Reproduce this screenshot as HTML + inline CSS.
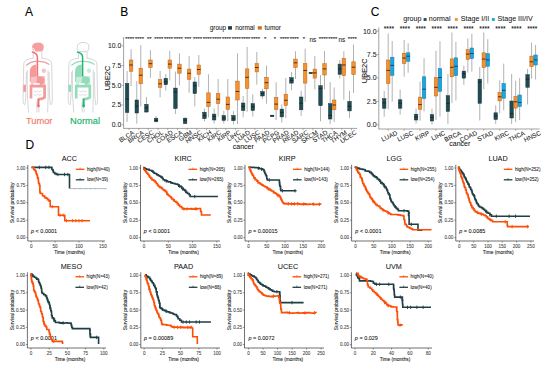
<!DOCTYPE html>
<html><head><meta charset="utf-8"><style>
html,body{margin:0;padding:0;background:#fff;width:550px;height:369px;overflow:hidden}
svg{display:block;font-family:"Liberation Sans", sans-serif}
</style></head><body>
<svg width="550" height="369" viewBox="0 0 550 369">
<rect width="550" height="369" fill="#fff"/>
<text x="25" y="16" font-size="12" fill="#000" text-anchor="start" stroke="#000" stroke-width="0.07" >A</text>
<text x="120.2" y="15.6" font-size="12" fill="#000" text-anchor="start" stroke="#000" stroke-width="0.07" >B</text>
<text x="370.8" y="15.8" font-size="12" fill="#000" text-anchor="start" stroke="#000" stroke-width="0.07" >C</text>
<text x="25.6" y="148.8" font-size="12" fill="#000" text-anchor="start" stroke="#000" stroke-width="0.07" >D</text>
<g><path d="M33.1,51.5 L33.300000000000004,58.3 Q25.1,59 24.0,62.5 Q23.6,65 23.6,70 L23.0,100 Q23.400000000000002,105.5 25.0,104.5 L25.8,96 L26.400000000000002,72 M27.200000000000003,70 L27.400000000000002,96 L28.6,112.5 M36.6,102 L37.0,112.5 M38.6,102 L39.0,112.5 M48.0,70 L48.2,96 L47.6,112.5 M49.0,72 L49.6,96 L50.400000000000006,104.5 Q52.0,105.5 52.400000000000006,100 L51.8,70 Q51.8,65 51.400000000000006,62.5 Q50.3,59 41.9,58.3 L41.800000000000004,51.5" fill="none" stroke="#c9c9c9" stroke-width="0.75"/><path d="M32.0,48.5 Q31.400000000000002,42.4 38.1,42.4 Q43.9,42.4 43.800000000000004,47 Q43.6,50.5 41.800000000000004,51.6 L34.0,51.6 Q33.0,50.6 32.0,48.5 Z" fill="#f4a0a0"/><path d="M31.8,47.8 Q34.6,48.5 35.1,51.6" fill="none" stroke="#fff" stroke-width="0.9"/><path d="M26.200000000000003,65.5 Q31.6,60.6 37.800000000000004,61.4 Q44.1,60.8 49.400000000000006,64.5" fill="none" stroke="#f39a9a" stroke-width="1.3"/><path d="M36.4,64.5 Q30.0,64.5 29.8,72 L29.8,82 L36.6,81 Z" fill="#f39a9a"/><circle cx="43.800000000000004" cy="70.8" r="2.2" fill="#f8c2c2"/><path d="M31.8,52 Q37.1,53 37.4,57 L37.4,78" fill="none" stroke="#f07272" stroke-width="1.5"/><path d="M30.8,77 L45.0,76 L45.2,85 L30.8,85.5 Z" fill="#f8c2c2"/><path d="M37.1,76.5 Q44.1,75.5 44.6,80 Q44.6,85 38.6,85 Q35.6,84 36.6,80 Z" fill="#f39a9a"/><rect x="33.6" y="83.2" width="6" height="2" fill="#fff"/><path d="M31.0,98.5 L31.0,86.2 L44.6,86.2 L44.6,97.4 Q41.6,99.5 38.4,99" fill="none" stroke="#f39a9a" stroke-width="2.7"/><path d="M32.800000000000004,89.5 L42.6,89.5 L42.6,96.5 L32.800000000000004,96.5 Z" fill="#fff"/><path d="M33.6,91 Q35.6,92.6 37.6,91 Q39.6,92.6 41.6,91 M33.6,94.5 Q35.6,96 37.6,94.5 Q39.6,96 41.6,94.5" fill="none" stroke="#cfcfcf" stroke-width="0.7"/><path d="M38.4,98.5 L38.4,105.5" stroke="#f07272" stroke-width="2"/><circle cx="38.4" cy="106" r="1.4" fill="#f07272"/><rect x="23.3" y="84.8" width="2.6" height="7" fill="#f39a9a"/></g>
<g><path d="M78.3,51.5 L78.5,58.3 Q70.3,59 69.2,62.5 Q68.8,65 68.8,70 L68.2,100 Q68.6,105.5 70.2,104.5 L71.0,96 L71.6,72 M72.39999999999999,70 L72.6,96 L73.8,112.5 M81.8,102 L82.2,112.5 M83.8,102 L84.2,112.5 M93.2,70 L93.39999999999999,96 L92.8,112.5 M94.2,72 L94.8,96 L95.6,104.5 Q97.2,105.5 97.6,100 L97.0,70 Q97.0,65 96.6,62.5 Q95.5,59 87.1,58.3 L87.0,51.5" fill="none" stroke="#c9c9c9" stroke-width="0.75"/><path d="M77.2,48.5 Q76.6,42.4 83.3,42.4 Q89.1,42.4 89.0,47 Q88.8,50.5 87.0,51.6 L79.2,51.6 Q78.2,50.6 77.2,48.5 Z" fill="none" stroke="#c9c9c9" stroke-width="0.8"/><path d="M71.39999999999999,65.5 Q76.8,60.6 83.0,61.4 Q89.3,60.8 94.6,64.5" fill="none" stroke="#93dcba" stroke-width="1.3"/><path d="M81.6,64.5 Q75.2,64.5 75.0,72 L75.0,82 L81.8,81 Z" fill="#93dcba"/><circle cx="89.0" cy="70.8" r="2.2" fill="#c8ecdb"/><path d="M77.0,52 Q82.3,53 82.6,57 L82.6,78" fill="none" stroke="#22b573" stroke-width="1.5"/><path d="M76.0,77 L90.2,76 L90.39999999999999,85 L76.0,85.5 Z" fill="#c8ecdb"/><path d="M82.3,76.5 Q89.3,75.5 89.8,80 Q89.8,85 83.8,85 Q80.8,84 81.8,80 Z" fill="#93dcba"/><rect x="78.8" y="83.2" width="6" height="2" fill="#fff"/><path d="M76.2,98.5 L76.2,86.2 L89.8,86.2 L89.8,97.4 Q86.8,99.5 83.6,99" fill="none" stroke="#93dcba" stroke-width="2.7"/><path d="M78.0,89.5 L87.8,89.5 L87.8,96.5 L78.0,96.5 Z" fill="#fff"/><path d="M78.8,91 Q80.8,92.6 82.8,91 Q84.8,92.6 86.8,91 M78.8,94.5 Q80.8,96 82.8,94.5 Q84.8,96 86.8,94.5" fill="none" stroke="#cfcfcf" stroke-width="0.7"/><path d="M83.6,98.5 L83.6,105.5" stroke="#22b573" stroke-width="2"/><circle cx="83.6" cy="106" r="1.4" fill="#22b573"/><rect x="68.5" y="84.8" width="2.6" height="7" fill="#93dcba"/></g>
<text x="39.2" y="124.4" font-size="9.3" fill="#f47764" text-anchor="middle" stroke="#f47764" stroke-width="0.15">Tumor</text>
<text x="85.1" y="124.4" font-size="9.3" fill="#14b166" text-anchor="middle" stroke="#14b166" stroke-width="0.15">Normal</text>
<line x1="123.6" y1="37" x2="123.6" y2="128.6" stroke="#7a7a7a" stroke-width="0.7"/>
<line x1="123.6" y1="128.4" x2="357.3" y2="128.4" stroke="#7a7a7a" stroke-width="0.7"/>
<line x1="121.8" y1="124.8" x2="123.6" y2="124.8" stroke="#7a7a7a" stroke-width="0.6"/>
<text x="121.2" y="127.2" font-size="6.8" fill="#222" text-anchor="end" stroke="#222" stroke-width="0.07" >0.0</text>
<line x1="121.8" y1="105.05" x2="123.6" y2="105.05" stroke="#7a7a7a" stroke-width="0.6"/>
<text x="121.2" y="107.45" font-size="6.8" fill="#222" text-anchor="end" stroke="#222" stroke-width="0.07" >2.5</text>
<line x1="121.8" y1="85.3" x2="123.6" y2="85.3" stroke="#7a7a7a" stroke-width="0.6"/>
<text x="121.2" y="87.7" font-size="6.8" fill="#222" text-anchor="end" stroke="#222" stroke-width="0.07" >5.0</text>
<line x1="121.8" y1="65.55" x2="123.6" y2="65.55" stroke="#7a7a7a" stroke-width="0.6"/>
<text x="121.2" y="67.95" font-size="6.8" fill="#222" text-anchor="end" stroke="#222" stroke-width="0.07" >7.5</text>
<line x1="121.8" y1="45.8" x2="123.6" y2="45.8" stroke="#7a7a7a" stroke-width="0.6"/>
<text x="121.2" y="48.2" font-size="6.8" fill="#222" text-anchor="end" stroke="#222" stroke-width="0.07" >10.0</text>
<text x="0" y="0" font-size="7.4" fill="#111" text-anchor="middle" stroke="#111" stroke-width="0.07" transform="translate(109.6,78) rotate(-90)">UBE2C</text>
<line x1="129.1" y1="128.4" x2="129.1" y2="130.2" stroke="#7a7a7a" stroke-width="0.6"/>
<line x1="127.1" y1="71" x2="127.1" y2="122" stroke="#a9a9a9" stroke-width="0.9"/>
<rect x="125.35" y="83.4" width="3.5" height="29.1" fill="#1f4b53" stroke="#16363c" stroke-width="0.5"/>
<line x1="125.35" y1="99" x2="128.85" y2="99" stroke="#222" stroke-width="0.9"/>
<line x1="131.1" y1="49.2" x2="131.1" y2="86" stroke="#a9a9a9" stroke-width="0.9"/>
<rect x="129.35" y="60" width="3.5" height="11.3" fill="#f5922f" stroke="#b8651c" stroke-width="0.5"/>
<line x1="129.35" y1="65" x2="132.85" y2="65" stroke="#3a2410" stroke-width="0.9"/>
<text x="129.8" y="41.2" font-size="5.8" fill="#111" text-anchor="middle" stroke="#111" stroke-width="0.07" >****</text>
<text x="0" y="0" font-size="6.4" fill="#222" text-anchor="end" stroke="#222" stroke-width="0.07" transform="translate(134.7,133.6) rotate(-33)">BLCA</text>
<line x1="138.77" y1="128.4" x2="138.77" y2="130.2" stroke="#7a7a7a" stroke-width="0.6"/>
<line x1="136.77" y1="81" x2="136.77" y2="123.6" stroke="#a9a9a9" stroke-width="0.9"/>
<rect x="135.02" y="100" width="3.5" height="13" fill="#1f4b53" stroke="#16363c" stroke-width="0.5"/>
<line x1="135.02" y1="106.2" x2="138.52" y2="106.2" stroke="#222" stroke-width="0.9"/>
<line x1="140.77" y1="45.2" x2="140.77" y2="106.4" stroke="#a9a9a9" stroke-width="0.9"/>
<rect x="139.02" y="68.2" width="3.5" height="15.6" fill="#f5922f" stroke="#b8651c" stroke-width="0.5"/>
<line x1="139.02" y1="75.2" x2="142.52" y2="75.2" stroke="#3a2410" stroke-width="0.9"/>
<text x="139.47" y="41.2" font-size="5.8" fill="#111" text-anchor="middle" stroke="#111" stroke-width="0.07" >****</text>
<text x="0" y="0" font-size="6.4" fill="#222" text-anchor="end" stroke="#222" stroke-width="0.07" transform="translate(144.37,133.6) rotate(-33)">BRCA</text>
<line x1="148.44" y1="128.4" x2="148.44" y2="130.2" stroke="#7a7a7a" stroke-width="0.6"/>
<line x1="146.44" y1="97" x2="146.44" y2="113" stroke="#a9a9a9" stroke-width="0.9"/>
<rect x="144.69" y="104.4" width="3.5" height="7.6" fill="#1f4b53" stroke="#16363c" stroke-width="0.5"/>
<line x1="144.69" y1="107.8" x2="148.19" y2="107.8" stroke="#222" stroke-width="0.9"/>
<line x1="150.44" y1="50" x2="150.44" y2="77.7" stroke="#a9a9a9" stroke-width="0.9"/>
<rect x="148.69" y="60" width="3.5" height="7.5" fill="#f5922f" stroke="#b8651c" stroke-width="0.5"/>
<line x1="148.69" y1="63.7" x2="152.19" y2="63.7" stroke="#3a2410" stroke-width="0.9"/>
<text x="149.14" y="41.2" font-size="5.8" fill="#111" text-anchor="middle" stroke="#111" stroke-width="0.07" >**</text>
<text x="0" y="0" font-size="6.4" fill="#222" text-anchor="end" stroke="#222" stroke-width="0.07" transform="translate(154.04,133.6) rotate(-33)">CESC</text>
<line x1="158.11" y1="128.4" x2="158.11" y2="130.2" stroke="#7a7a7a" stroke-width="0.6"/>
<line x1="156.11" y1="116" x2="156.11" y2="122.5" stroke="#a9a9a9" stroke-width="0.9"/>
<rect x="154.36" y="118.2" width="3.5" height="3.5" fill="#1f4b53" stroke="#16363c" stroke-width="0.5"/>
<line x1="154.36" y1="120.6" x2="157.86" y2="120.6" stroke="#222" stroke-width="0.9"/>
<line x1="160.11" y1="71" x2="160.11" y2="97.3" stroke="#a9a9a9" stroke-width="0.9"/>
<rect x="158.36" y="79.7" width="3.5" height="7.8" fill="#f5922f" stroke="#b8651c" stroke-width="0.5"/>
<line x1="158.36" y1="83.8" x2="161.86" y2="83.8" stroke="#3a2410" stroke-width="0.9"/>
<text x="158.81" y="41.2" font-size="5.8" fill="#111" text-anchor="middle" stroke="#111" stroke-width="0.07" >****</text>
<text x="0" y="0" font-size="6.4" fill="#222" text-anchor="end" stroke="#222" stroke-width="0.07" transform="translate(163.71,133.6) rotate(-33)">CHOL</text>
<line x1="167.78" y1="128.4" x2="167.78" y2="130.2" stroke="#7a7a7a" stroke-width="0.6"/>
<line x1="165.78" y1="74" x2="165.78" y2="90.6" stroke="#a9a9a9" stroke-width="0.9"/>
<rect x="164.03" y="78.4" width="3.5" height="6.3" fill="#1f4b53" stroke="#16363c" stroke-width="0.5"/>
<line x1="164.03" y1="82" x2="167.53" y2="82" stroke="#222" stroke-width="0.9"/>
<line x1="169.78" y1="50.6" x2="169.78" y2="80.4" stroke="#a9a9a9" stroke-width="0.9"/>
<rect x="168.03" y="60" width="3.5" height="8.2" fill="#f5922f" stroke="#b8651c" stroke-width="0.5"/>
<line x1="168.03" y1="64.1" x2="171.53" y2="64.1" stroke="#3a2410" stroke-width="0.9"/>
<text x="168.48" y="41.2" font-size="5.8" fill="#111" text-anchor="middle" stroke="#111" stroke-width="0.07" >****</text>
<text x="0" y="0" font-size="6.4" fill="#222" text-anchor="end" stroke="#222" stroke-width="0.07" transform="translate(173.38,133.6) rotate(-33)">COAD</text>
<line x1="177.45" y1="128.4" x2="177.45" y2="130.2" stroke="#7a7a7a" stroke-width="0.6"/>
<line x1="175.45" y1="71.6" x2="175.45" y2="114" stroke="#a9a9a9" stroke-width="0.9"/>
<rect x="173.7" y="88.1" width="3.5" height="20.4" fill="#1f4b53" stroke="#16363c" stroke-width="0.5"/>
<line x1="173.7" y1="92" x2="177.2" y2="92" stroke="#222" stroke-width="0.9"/>
<line x1="179.45" y1="53.3" x2="179.45" y2="85.4" stroke="#a9a9a9" stroke-width="0.9"/>
<rect x="177.7" y="64.1" width="3.5" height="9.1" fill="#f5922f" stroke="#b8651c" stroke-width="0.5"/>
<line x1="177.7" y1="68.2" x2="181.2" y2="68.2" stroke="#3a2410" stroke-width="0.9"/>
<text x="178.15" y="41.2" font-size="5.8" fill="#111" text-anchor="middle" stroke="#111" stroke-width="0.07" >****</text>
<text x="0" y="0" font-size="6.4" fill="#222" text-anchor="end" stroke="#222" stroke-width="0.07" transform="translate(183.05,133.6) rotate(-33)">ESCA</text>
<line x1="187.12" y1="128.4" x2="187.12" y2="130.2" stroke="#7a7a7a" stroke-width="0.6"/>
<line x1="185.12" y1="117" x2="185.12" y2="124" stroke="#a9a9a9" stroke-width="0.9"/>
<rect x="183.37" y="118.2" width="3.5" height="5.4" fill="#1f4b53" stroke="#16363c" stroke-width="0.5"/>
<line x1="183.37" y1="120.2" x2="186.87" y2="120.2" stroke="#222" stroke-width="0.9"/>
<line x1="189.12" y1="56" x2="189.12" y2="92.9" stroke="#a9a9a9" stroke-width="0.9"/>
<rect x="187.37" y="69.1" width="3.5" height="10.3" fill="#f5922f" stroke="#b8651c" stroke-width="0.5"/>
<line x1="187.37" y1="73.3" x2="190.87" y2="73.3" stroke="#3a2410" stroke-width="0.9"/>
<text x="187.82" y="41.2" font-size="5.8" fill="#111" text-anchor="middle" stroke="#111" stroke-width="0.07" >***</text>
<text x="0" y="0" font-size="6.4" fill="#222" text-anchor="end" stroke="#222" stroke-width="0.07" transform="translate(192.72,133.6) rotate(-33)">GBM</text>
<line x1="196.79" y1="128.4" x2="196.79" y2="130.2" stroke="#7a7a7a" stroke-width="0.6"/>
<line x1="194.79" y1="77" x2="194.79" y2="106.4" stroke="#a9a9a9" stroke-width="0.9"/>
<rect x="193.04" y="82" width="3.5" height="11.5" fill="#1f4b53" stroke="#16363c" stroke-width="0.5"/>
<line x1="193.04" y1="85.7" x2="196.54" y2="85.7" stroke="#222" stroke-width="0.9"/>
<line x1="198.79" y1="55" x2="198.79" y2="86.8" stroke="#a9a9a9" stroke-width="0.9"/>
<rect x="197.04" y="65" width="3.5" height="9.3" fill="#f5922f" stroke="#b8651c" stroke-width="0.5"/>
<line x1="197.04" y1="69.5" x2="200.54" y2="69.5" stroke="#3a2410" stroke-width="0.9"/>
<text x="197.49" y="41.2" font-size="5.8" fill="#111" text-anchor="middle" stroke="#111" stroke-width="0.07" >****</text>
<text x="0" y="0" font-size="6.4" fill="#222" text-anchor="end" stroke="#222" stroke-width="0.07" transform="translate(202.39,133.6) rotate(-33)">HNSC</text>
<line x1="206.46" y1="128.4" x2="206.46" y2="130.2" stroke="#7a7a7a" stroke-width="0.6"/>
<line x1="204.46" y1="108.7" x2="204.46" y2="121.3" stroke="#a9a9a9" stroke-width="0.9"/>
<rect x="202.71" y="112.2" width="3.5" height="6.4" fill="#1f4b53" stroke="#16363c" stroke-width="0.5"/>
<line x1="202.71" y1="115.5" x2="206.21" y2="115.5" stroke="#222" stroke-width="0.9"/>
<line x1="208.46" y1="74.3" x2="208.46" y2="117.3" stroke="#a9a9a9" stroke-width="0.9"/>
<rect x="206.71" y="92.9" width="3.5" height="13.8" fill="#f5922f" stroke="#b8651c" stroke-width="0.5"/>
<line x1="206.71" y1="102.4" x2="210.21" y2="102.4" stroke="#3a2410" stroke-width="0.9"/>
<text x="207.16" y="41.2" font-size="5.8" fill="#111" text-anchor="middle" stroke="#111" stroke-width="0.07" >****</text>
<text x="0" y="0" font-size="6.4" fill="#222" text-anchor="end" stroke="#222" stroke-width="0.07" transform="translate(212.06,133.6) rotate(-33)">KICH</text>
<line x1="216.13" y1="128.4" x2="216.13" y2="130.2" stroke="#7a7a7a" stroke-width="0.6"/>
<line x1="214.13" y1="108.5" x2="214.13" y2="123.6" stroke="#a9a9a9" stroke-width="0.9"/>
<rect x="212.38" y="114.1" width="3.5" height="5.9" fill="#1f4b53" stroke="#16363c" stroke-width="0.5"/>
<line x1="212.38" y1="116.6" x2="215.88" y2="116.6" stroke="#222" stroke-width="0.9"/>
<line x1="218.13" y1="79" x2="218.13" y2="116.6" stroke="#a9a9a9" stroke-width="0.9"/>
<rect x="216.38" y="93.5" width="3.5" height="10.2" fill="#f5922f" stroke="#b8651c" stroke-width="0.5"/>
<line x1="216.38" y1="99.2" x2="219.88" y2="99.2" stroke="#3a2410" stroke-width="0.9"/>
<text x="216.83" y="41.2" font-size="5.8" fill="#111" text-anchor="middle" stroke="#111" stroke-width="0.07" >****</text>
<text x="0" y="0" font-size="6.4" fill="#222" text-anchor="end" stroke="#222" stroke-width="0.07" transform="translate(221.73,133.6) rotate(-33)">KIRC</text>
<line x1="225.8" y1="128.4" x2="225.8" y2="130.2" stroke="#7a7a7a" stroke-width="0.6"/>
<line x1="223.8" y1="110.9" x2="223.8" y2="123.6" stroke="#a9a9a9" stroke-width="0.9"/>
<rect x="222.05" y="115.5" width="3.5" height="4.9" fill="#1f4b53" stroke="#16363c" stroke-width="0.5"/>
<line x1="222.05" y1="118" x2="225.55" y2="118" stroke="#222" stroke-width="0.9"/>
<line x1="227.8" y1="79" x2="227.8" y2="121.3" stroke="#a9a9a9" stroke-width="0.9"/>
<rect x="226.05" y="97" width="3.5" height="12.5" fill="#f5922f" stroke="#b8651c" stroke-width="0.5"/>
<line x1="226.05" y1="104.4" x2="229.55" y2="104.4" stroke="#3a2410" stroke-width="0.9"/>
<text x="226.5" y="41.2" font-size="5.8" fill="#111" text-anchor="middle" stroke="#111" stroke-width="0.07" >****</text>
<text x="0" y="0" font-size="6.4" fill="#222" text-anchor="end" stroke="#222" stroke-width="0.07" transform="translate(231.4,133.6) rotate(-33)">KIRP</text>
<line x1="235.47" y1="128.4" x2="235.47" y2="130.2" stroke="#7a7a7a" stroke-width="0.6"/>
<line x1="233.47" y1="111.2" x2="233.47" y2="124.4" stroke="#a9a9a9" stroke-width="0.9"/>
<rect x="231.72" y="115.5" width="3.5" height="5.2" fill="#1f4b53" stroke="#16363c" stroke-width="0.5"/>
<line x1="231.72" y1="118.6" x2="235.22" y2="118.6" stroke="#222" stroke-width="0.9"/>
<line x1="237.47" y1="53.3" x2="237.47" y2="124" stroke="#a9a9a9" stroke-width="0.9"/>
<rect x="235.72" y="81.1" width="3.5" height="18.9" fill="#f5922f" stroke="#b8651c" stroke-width="0.5"/>
<line x1="235.72" y1="91.5" x2="239.22" y2="91.5" stroke="#3a2410" stroke-width="0.9"/>
<text x="236.17" y="41.2" font-size="5.8" fill="#111" text-anchor="middle" stroke="#111" stroke-width="0.07" >****</text>
<text x="0" y="0" font-size="6.4" fill="#222" text-anchor="end" stroke="#222" stroke-width="0.07" transform="translate(241.07,133.6) rotate(-33)">LIHC</text>
<line x1="245.14" y1="128.4" x2="245.14" y2="130.2" stroke="#7a7a7a" stroke-width="0.6"/>
<line x1="243.14" y1="96" x2="243.14" y2="117.3" stroke="#a9a9a9" stroke-width="0.9"/>
<rect x="241.39" y="103" width="3.5" height="7.5" fill="#1f4b53" stroke="#16363c" stroke-width="0.5"/>
<line x1="241.39" y1="106.4" x2="244.89" y2="106.4" stroke="#222" stroke-width="0.9"/>
<line x1="247.14" y1="46.9" x2="247.14" y2="111.8" stroke="#a9a9a9" stroke-width="0.9"/>
<rect x="245.39" y="68.9" width="3.5" height="19.5" fill="#f5922f" stroke="#b8651c" stroke-width="0.5"/>
<line x1="245.39" y1="77.3" x2="248.89" y2="77.3" stroke="#3a2410" stroke-width="0.9"/>
<text x="245.84" y="41.2" font-size="5.8" fill="#111" text-anchor="middle" stroke="#111" stroke-width="0.07" >****</text>
<text x="0" y="0" font-size="6.4" fill="#222" text-anchor="end" stroke="#222" stroke-width="0.07" transform="translate(250.74,133.6) rotate(-33)">LUAD</text>
<line x1="254.81" y1="128.4" x2="254.81" y2="130.2" stroke="#7a7a7a" stroke-width="0.6"/>
<line x1="252.81" y1="94.2" x2="252.81" y2="116.6" stroke="#a9a9a9" stroke-width="0.9"/>
<rect x="251.06" y="103.7" width="3.5" height="6.8" fill="#1f4b53" stroke="#16363c" stroke-width="0.5"/>
<line x1="251.06" y1="106.8" x2="254.56" y2="106.8" stroke="#222" stroke-width="0.9"/>
<line x1="256.81" y1="51.9" x2="256.81" y2="84.7" stroke="#a9a9a9" stroke-width="0.9"/>
<rect x="255.06" y="63.5" width="3.5" height="8.4" fill="#f5922f" stroke="#b8651c" stroke-width="0.5"/>
<line x1="255.06" y1="67.5" x2="258.56" y2="67.5" stroke="#3a2410" stroke-width="0.9"/>
<text x="255.51" y="41.2" font-size="5.8" fill="#111" text-anchor="middle" stroke="#111" stroke-width="0.07" >****</text>
<text x="0" y="0" font-size="6.4" fill="#222" text-anchor="end" stroke="#222" stroke-width="0.07" transform="translate(260.41,133.6) rotate(-33)">LUSC</text>
<line x1="264.48" y1="128.4" x2="264.48" y2="130.2" stroke="#7a7a7a" stroke-width="0.6"/>
<line x1="262.48" y1="88.8" x2="262.48" y2="99" stroke="#a9a9a9" stroke-width="0.9"/>
<rect x="260.73" y="91.5" width="3.5" height="4.5" fill="#1f4b53" stroke="#16363c" stroke-width="0.5"/>
<line x1="260.73" y1="93.5" x2="264.23" y2="93.5" stroke="#222" stroke-width="0.9"/>
<line x1="266.48" y1="65.5" x2="266.48" y2="103.7" stroke="#a9a9a9" stroke-width="0.9"/>
<rect x="264.73" y="77.3" width="3.5" height="11.5" fill="#f5922f" stroke="#b8651c" stroke-width="0.5"/>
<line x1="264.73" y1="82.7" x2="268.23" y2="82.7" stroke="#3a2410" stroke-width="0.9"/>
<text x="265.18" y="41.2" font-size="5.8" fill="#111" text-anchor="middle" stroke="#111" stroke-width="0.07" >*</text>
<text x="0" y="0" font-size="6.4" fill="#222" text-anchor="end" stroke="#222" stroke-width="0.07" transform="translate(270.08,133.6) rotate(-33)">PAAD</text>
<line x1="274.15" y1="128.4" x2="274.15" y2="130.2" stroke="#7a7a7a" stroke-width="0.6"/>
<line x1="272.15" y1="115" x2="272.15" y2="116.8" stroke="#a9a9a9" stroke-width="0.9"/>
<rect x="270.4" y="115.2" width="3.5" height="1.4" fill="#1f4b53" stroke="#16363c" stroke-width="0.5"/>
<line x1="270.4" y1="115.8" x2="273.9" y2="115.8" stroke="#222" stroke-width="0.9"/>
<line x1="276.15" y1="82.4" x2="276.15" y2="120" stroke="#a9a9a9" stroke-width="0.9"/>
<rect x="274.4" y="97.3" width="3.5" height="12.2" fill="#f5922f" stroke="#b8651c" stroke-width="0.5"/>
<line x1="274.4" y1="104.1" x2="277.9" y2="104.1" stroke="#3a2410" stroke-width="0.9"/>
<text x="274.85" y="41.2" font-size="5.8" fill="#111" text-anchor="middle" stroke="#111" stroke-width="0.07" >*</text>
<text x="0" y="0" font-size="6.4" fill="#222" text-anchor="end" stroke="#222" stroke-width="0.07" transform="translate(279.75,133.6) rotate(-33)">PCPG</text>
<line x1="283.82" y1="128.4" x2="283.82" y2="130.2" stroke="#7a7a7a" stroke-width="0.6"/>
<line x1="281.82" y1="104.4" x2="281.82" y2="122.7" stroke="#a9a9a9" stroke-width="0.9"/>
<rect x="280.07" y="109.1" width="3.5" height="7.8" fill="#1f4b53" stroke="#16363c" stroke-width="0.5"/>
<line x1="280.07" y1="112.5" x2="283.57" y2="112.5" stroke="#222" stroke-width="0.9"/>
<line x1="285.82" y1="78" x2="285.82" y2="118" stroke="#a9a9a9" stroke-width="0.9"/>
<rect x="284.07" y="94.2" width="3.5" height="11.3" fill="#f5922f" stroke="#b8651c" stroke-width="0.5"/>
<line x1="284.07" y1="100.3" x2="287.57" y2="100.3" stroke="#3a2410" stroke-width="0.9"/>
<text x="284.52" y="41.2" font-size="5.8" fill="#111" text-anchor="middle" stroke="#111" stroke-width="0.07" >****</text>
<text x="0" y="0" font-size="6.4" fill="#222" text-anchor="end" stroke="#222" stroke-width="0.07" transform="translate(289.42,133.6) rotate(-33)">PRAD</text>
<line x1="293.49" y1="128.4" x2="293.49" y2="130.2" stroke="#7a7a7a" stroke-width="0.6"/>
<line x1="291.49" y1="71.9" x2="291.49" y2="90.2" stroke="#a9a9a9" stroke-width="0.9"/>
<rect x="289.74" y="77.7" width="3.5" height="5.4" fill="#1f4b53" stroke="#16363c" stroke-width="0.5"/>
<line x1="289.74" y1="80.4" x2="293.24" y2="80.4" stroke="#222" stroke-width="0.9"/>
<line x1="295.49" y1="51.3" x2="295.49" y2="79" stroke="#a9a9a9" stroke-width="0.9"/>
<rect x="293.74" y="59.1" width="3.5" height="8.4" fill="#f5922f" stroke="#b8651c" stroke-width="0.5"/>
<line x1="293.74" y1="62.8" x2="297.24" y2="62.8" stroke="#3a2410" stroke-width="0.9"/>
<text x="294.19" y="41.2" font-size="5.8" fill="#111" text-anchor="middle" stroke="#111" stroke-width="0.07" >****</text>
<text x="0" y="0" font-size="6.4" fill="#222" text-anchor="end" stroke="#222" stroke-width="0.07" transform="translate(299.09,133.6) rotate(-33)">READ</text>
<line x1="303.16" y1="128.4" x2="303.16" y2="130.2" stroke="#7a7a7a" stroke-width="0.6"/>
<line x1="301.16" y1="90.8" x2="301.16" y2="115.9" stroke="#a9a9a9" stroke-width="0.9"/>
<rect x="299.41" y="97" width="3.5" height="12.8" fill="#1f4b53" stroke="#16363c" stroke-width="0.5"/>
<line x1="299.41" y1="103.3" x2="302.91" y2="103.3" stroke="#222" stroke-width="0.9"/>
<line x1="305.16" y1="48.6" x2="305.16" y2="101.7" stroke="#a9a9a9" stroke-width="0.9"/>
<rect x="303.41" y="63.5" width="3.5" height="19.6" fill="#f5922f" stroke="#b8651c" stroke-width="0.5"/>
<line x1="303.41" y1="70.5" x2="306.91" y2="70.5" stroke="#3a2410" stroke-width="0.9"/>
<text x="303.86" y="41.2" font-size="5.8" fill="#111" text-anchor="middle" stroke="#111" stroke-width="0.07" >*</text>
<text x="0" y="0" font-size="6.4" fill="#222" text-anchor="end" stroke="#222" stroke-width="0.07" transform="translate(308.76,133.6) rotate(-33)">SARC</text>
<line x1="312.83" y1="128.4" x2="312.83" y2="130.2" stroke="#7a7a7a" stroke-width="0.6"/>
<line x1="310.83" y1="72.5" x2="310.83" y2="73.5" stroke="#a9a9a9" stroke-width="0.9"/>
<rect x="309.08" y="72.5" width="3.5" height="1" fill="#1f4b53" stroke="#16363c" stroke-width="0.5"/>
<line x1="309.08" y1="73" x2="312.58" y2="73" stroke="#222" stroke-width="0.9"/>
<line x1="314.83" y1="56" x2="314.83" y2="89.5" stroke="#a9a9a9" stroke-width="0.9"/>
<rect x="313.08" y="69.1" width="3.5" height="9" fill="#f5922f" stroke="#b8651c" stroke-width="0.5"/>
<line x1="313.08" y1="72.9" x2="316.58" y2="72.9" stroke="#3a2410" stroke-width="0.9"/>
<text x="312.83" y="41.6" font-size="6.4" fill="#222" text-anchor="middle" stroke="#222" stroke-width="0.07" >ns</text>
<text x="0" y="0" font-size="6.4" fill="#222" text-anchor="end" stroke="#222" stroke-width="0.07" transform="translate(318.43,133.6) rotate(-33)">SKCM</text>
<line x1="322.5" y1="128.4" x2="322.5" y2="130.2" stroke="#7a7a7a" stroke-width="0.6"/>
<line x1="320.5" y1="75" x2="320.5" y2="121.3" stroke="#a9a9a9" stroke-width="0.9"/>
<rect x="318.75" y="85.7" width="3.5" height="20" fill="#1f4b53" stroke="#16363c" stroke-width="0.5"/>
<line x1="318.75" y1="88.4" x2="322.25" y2="88.4" stroke="#222" stroke-width="0.9"/>
<line x1="324.5" y1="51" x2="324.5" y2="89.5" stroke="#a9a9a9" stroke-width="0.9"/>
<rect x="322.75" y="63.7" width="3.5" height="11.3" fill="#f5922f" stroke="#b8651c" stroke-width="0.5"/>
<line x1="322.75" y1="68.9" x2="326.25" y2="68.9" stroke="#3a2410" stroke-width="0.9"/>
<text x="323.2" y="41.2" font-size="5.8" fill="#111" text-anchor="middle" stroke="#111" stroke-width="0.07" >****</text>
<text x="0" y="0" font-size="6.4" fill="#222" text-anchor="end" stroke="#222" stroke-width="0.07" transform="translate(328.1,133.6) rotate(-33)">STAD</text>
<line x1="332.17" y1="128.4" x2="332.17" y2="130.2" stroke="#7a7a7a" stroke-width="0.6"/>
<line x1="330.17" y1="82" x2="330.17" y2="124" stroke="#a9a9a9" stroke-width="0.9"/>
<rect x="328.42" y="103.7" width="3.5" height="15.3" fill="#1f4b53" stroke="#16363c" stroke-width="0.5"/>
<line x1="328.42" y1="115.5" x2="331.92" y2="115.5" stroke="#222" stroke-width="0.9"/>
<line x1="334.17" y1="87.5" x2="334.17" y2="122" stroke="#a9a9a9" stroke-width="0.9"/>
<rect x="332.42" y="100" width="3.5" height="9.8" fill="#f5922f" stroke="#b8651c" stroke-width="0.5"/>
<line x1="332.42" y1="105" x2="335.92" y2="105" stroke="#3a2410" stroke-width="0.9"/>
<text x="332.87" y="41.2" font-size="5.8" fill="#111" text-anchor="middle" stroke="#111" stroke-width="0.07" >****</text>
<text x="0" y="0" font-size="6.4" fill="#222" text-anchor="end" stroke="#222" stroke-width="0.07" transform="translate(337.77,133.6) rotate(-33)">THCA</text>
<line x1="341.84" y1="128.4" x2="341.84" y2="130.2" stroke="#7a7a7a" stroke-width="0.6"/>
<line x1="339.84" y1="60" x2="339.84" y2="78.4" stroke="#a9a9a9" stroke-width="0.9"/>
<rect x="338.09" y="64.1" width="3.5" height="10.2" fill="#1f4b53" stroke="#16363c" stroke-width="0.5"/>
<line x1="338.09" y1="68.9" x2="341.59" y2="68.9" stroke="#222" stroke-width="0.9"/>
<line x1="343.84" y1="51.3" x2="343.84" y2="99.6" stroke="#a9a9a9" stroke-width="0.9"/>
<rect x="342.09" y="58.3" width="3.5" height="17.4" fill="#f5922f" stroke="#b8651c" stroke-width="0.5"/>
<line x1="342.09" y1="65" x2="345.59" y2="65" stroke="#3a2410" stroke-width="0.9"/>
<text x="341.84" y="41.6" font-size="6.4" fill="#222" text-anchor="middle" stroke="#222" stroke-width="0.07" >ns</text>
<text x="0" y="0" font-size="6.4" fill="#222" text-anchor="end" stroke="#222" stroke-width="0.07" transform="translate(347.44,133.6) rotate(-33)">THYM</text>
<line x1="351.51" y1="128.4" x2="351.51" y2="130.2" stroke="#7a7a7a" stroke-width="0.6"/>
<line x1="349.51" y1="90.8" x2="349.51" y2="118" stroke="#a9a9a9" stroke-width="0.9"/>
<rect x="347.76" y="101.4" width="3.5" height="9.5" fill="#1f4b53" stroke="#16363c" stroke-width="0.5"/>
<line x1="347.76" y1="106.4" x2="351.26" y2="106.4" stroke="#222" stroke-width="0.9"/>
<line x1="353.51" y1="44.5" x2="353.51" y2="92.9" stroke="#a9a9a9" stroke-width="0.9"/>
<rect x="351.76" y="61.8" width="3.5" height="12.8" fill="#f5922f" stroke="#b8651c" stroke-width="0.5"/>
<line x1="351.76" y1="67.2" x2="355.26" y2="67.2" stroke="#3a2410" stroke-width="0.9"/>
<text x="352.21" y="41.2" font-size="5.8" fill="#111" text-anchor="middle" stroke="#111" stroke-width="0.07" >****</text>
<text x="0" y="0" font-size="6.4" fill="#222" text-anchor="end" stroke="#222" stroke-width="0.07" transform="translate(357.11,133.6) rotate(-33)">UCEC</text>
<text x="243.3" y="149" font-size="7" fill="#111" text-anchor="middle" stroke="#111" stroke-width="0.07" >cancer</text>
<text x="209.8" y="29.9" font-size="6.4" fill="#222" text-anchor="start" stroke="#222" stroke-width="0.07" >group</text>
<rect x="228.2" y="26.3" width="3.6" height="3.1" fill="#1f4b53" stroke="#16363c" stroke-width="0.4"/><line x1="228.2" y1="27.9" x2="231.8" y2="27.9" stroke="#111" stroke-width="0.5"/>
<text x="235.2" y="29.9" font-size="6.4" fill="#222" text-anchor="start" stroke="#222" stroke-width="0.07" >normal</text>
<rect x="258" y="26.3" width="3.6" height="3.1" fill="#f5922f" stroke="#b8651c" stroke-width="0.4"/><line x1="258" y1="27.9" x2="261.6" y2="27.9" stroke="#3a2410" stroke-width="0.5"/>
<text x="264.6" y="29.9" font-size="6.4" fill="#222" text-anchor="start" stroke="#222" stroke-width="0.07" >tumor</text>
<line x1="378.8" y1="27.5" x2="378.8" y2="129.2" stroke="#7a7a7a" stroke-width="0.7"/>
<line x1="378.8" y1="129" x2="539.6" y2="129" stroke="#7a7a7a" stroke-width="0.7"/>
<line x1="377" y1="124.8" x2="378.8" y2="124.8" stroke="#7a7a7a" stroke-width="0.6"/>
<text x="376.6" y="127.3" font-size="7" fill="#222" text-anchor="end" stroke="#222" stroke-width="0.07" >0.0</text>
<line x1="377" y1="101.38" x2="378.8" y2="101.38" stroke="#7a7a7a" stroke-width="0.6"/>
<text x="376.6" y="103.88" font-size="7" fill="#222" text-anchor="end" stroke="#222" stroke-width="0.07" >2.5</text>
<line x1="377" y1="77.95" x2="378.8" y2="77.95" stroke="#7a7a7a" stroke-width="0.6"/>
<text x="376.6" y="80.45" font-size="7" fill="#222" text-anchor="end" stroke="#222" stroke-width="0.07" >5.0</text>
<line x1="377" y1="54.53" x2="378.8" y2="54.53" stroke="#7a7a7a" stroke-width="0.6"/>
<text x="376.6" y="57.03" font-size="7" fill="#222" text-anchor="end" stroke="#222" stroke-width="0.07" >7.5</text>
<line x1="377" y1="31.1" x2="378.8" y2="31.1" stroke="#7a7a7a" stroke-width="0.6"/>
<text x="376.6" y="33.6" font-size="7" fill="#222" text-anchor="end" stroke="#222" stroke-width="0.07" >10.0</text>
<text x="0" y="0" font-size="7.4" fill="#111" text-anchor="middle" stroke="#111" stroke-width="0.07" transform="translate(367.4,70.8) rotate(-90)">UBE2C</text>
<line x1="388.2" y1="129" x2="388.2" y2="130.8" stroke="#7a7a7a" stroke-width="0.6"/>
<line x1="384.2" y1="91" x2="384.2" y2="116.7" stroke="#a9a9a9" stroke-width="0.9"/>
<rect x="382.45" y="98.7" width="3.5" height="9.5" fill="#1f4b53" stroke="#16363c" stroke-width="0.5"/>
<line x1="382.45" y1="102.9" x2="385.95" y2="102.9" stroke="#222" stroke-width="0.9"/>
<line x1="388.2" y1="33.4" x2="388.2" y2="109.3" stroke="#a9a9a9" stroke-width="0.9"/>
<rect x="386.45" y="60" width="3.5" height="23.6" fill="#f5922f" stroke="#b8651c" stroke-width="0.5"/>
<line x1="386.45" y1="70.4" x2="389.95" y2="70.4" stroke="#3a2410" stroke-width="0.9"/>
<line x1="392.2" y1="41" x2="392.2" y2="101.8" stroke="#a9a9a9" stroke-width="0.9"/>
<rect x="390.45" y="57.2" width="3.5" height="18.2" fill="#1ca6e0" stroke="#1479a8" stroke-width="0.5"/>
<line x1="390.45" y1="65.4" x2="393.95" y2="65.4" stroke="#0d3a55" stroke-width="0.9"/>
<text x="388.9" y="31.2" font-size="6.6" fill="#111" text-anchor="middle" stroke="#111" stroke-width="0.07" >****</text>
<text x="0" y="0" font-size="6.4" fill="#222" text-anchor="end" stroke="#222" stroke-width="0.07" transform="translate(398,134.6) rotate(-25)">LUAD</text>
<line x1="404.13" y1="129" x2="404.13" y2="130.8" stroke="#7a7a7a" stroke-width="0.6"/>
<line x1="400.13" y1="89.6" x2="400.13" y2="114.7" stroke="#a9a9a9" stroke-width="0.9"/>
<rect x="398.38" y="99.8" width="3.5" height="8.4" fill="#1f4b53" stroke="#16363c" stroke-width="0.5"/>
<line x1="398.38" y1="103.2" x2="401.88" y2="103.2" stroke="#222" stroke-width="0.9"/>
<line x1="404.13" y1="40" x2="404.13" y2="76.8" stroke="#a9a9a9" stroke-width="0.9"/>
<rect x="402.38" y="53.2" width="3.5" height="10.4" fill="#f5922f" stroke="#b8651c" stroke-width="0.5"/>
<line x1="402.38" y1="58" x2="405.88" y2="58" stroke="#3a2410" stroke-width="0.9"/>
<line x1="408.13" y1="43.3" x2="408.13" y2="72.7" stroke="#a9a9a9" stroke-width="0.9"/>
<rect x="406.38" y="52.8" width="3.5" height="8.5" fill="#1ca6e0" stroke="#1479a8" stroke-width="0.5"/>
<line x1="406.38" y1="56.2" x2="409.88" y2="56.2" stroke="#0d3a55" stroke-width="0.9"/>
<text x="404.83" y="31.2" font-size="6.6" fill="#111" text-anchor="middle" stroke="#111" stroke-width="0.07" >****</text>
<text x="0" y="0" font-size="6.4" fill="#222" text-anchor="end" stroke="#222" stroke-width="0.07" transform="translate(413.93,134.6) rotate(-25)">LUSC</text>
<line x1="420.06" y1="129" x2="420.06" y2="130.8" stroke="#7a7a7a" stroke-width="0.6"/>
<line x1="416.06" y1="108.6" x2="416.06" y2="123.7" stroke="#a9a9a9" stroke-width="0.9"/>
<rect x="414.31" y="114.2" width="3.5" height="5.8" fill="#1f4b53" stroke="#16363c" stroke-width="0.5"/>
<line x1="414.31" y1="117" x2="417.81" y2="117" stroke="#222" stroke-width="0.9"/>
<line x1="420.06" y1="81.5" x2="420.06" y2="120.7" stroke="#a9a9a9" stroke-width="0.9"/>
<rect x="418.31" y="97.1" width="3.5" height="12.2" fill="#f5922f" stroke="#b8651c" stroke-width="0.5"/>
<line x1="418.31" y1="104.6" x2="421.81" y2="104.6" stroke="#3a2410" stroke-width="0.9"/>
<line x1="424.06" y1="58.2" x2="424.06" y2="111.3" stroke="#a9a9a9" stroke-width="0.9"/>
<rect x="422.31" y="76.8" width="3.5" height="21.7" fill="#1ca6e0" stroke="#1479a8" stroke-width="0.5"/>
<line x1="422.31" y1="89.2" x2="425.81" y2="89.2" stroke="#0d3a55" stroke-width="0.9"/>
<text x="420.76" y="31.2" font-size="6.6" fill="#111" text-anchor="middle" stroke="#111" stroke-width="0.07" >****</text>
<text x="0" y="0" font-size="6.4" fill="#222" text-anchor="end" stroke="#222" stroke-width="0.07" transform="translate(429.86,134.6) rotate(-25)">KIRP</text>
<line x1="435.99" y1="129" x2="435.99" y2="130.8" stroke="#7a7a7a" stroke-width="0.6"/>
<line x1="431.99" y1="108.6" x2="431.99" y2="124.5" stroke="#a9a9a9" stroke-width="0.9"/>
<rect x="430.24" y="114.6" width="3.5" height="6.4" fill="#1f4b53" stroke="#16363c" stroke-width="0.5"/>
<line x1="430.24" y1="117.4" x2="433.74" y2="117.4" stroke="#222" stroke-width="0.9"/>
<line x1="435.99" y1="50.7" x2="435.99" y2="120" stroke="#a9a9a9" stroke-width="0.9"/>
<rect x="434.24" y="77.5" width="3.5" height="18.5" fill="#f5922f" stroke="#b8651c" stroke-width="0.5"/>
<line x1="434.24" y1="87.3" x2="437.74" y2="87.3" stroke="#3a2410" stroke-width="0.9"/>
<line x1="439.99" y1="41.3" x2="439.99" y2="116.7" stroke="#a9a9a9" stroke-width="0.9"/>
<rect x="438.24" y="68.6" width="3.5" height="22.8" fill="#1ca6e0" stroke="#1479a8" stroke-width="0.5"/>
<line x1="438.24" y1="77.5" x2="441.74" y2="77.5" stroke="#0d3a55" stroke-width="0.9"/>
<text x="436.69" y="31.2" font-size="6.6" fill="#111" text-anchor="middle" stroke="#111" stroke-width="0.07" >****</text>
<text x="0" y="0" font-size="6.4" fill="#222" text-anchor="end" stroke="#222" stroke-width="0.07" transform="translate(445.79,134.6) rotate(-25)">LIHC</text>
<line x1="451.92" y1="129" x2="451.92" y2="130.8" stroke="#7a7a7a" stroke-width="0.6"/>
<line x1="447.92" y1="74" x2="447.92" y2="124.1" stroke="#a9a9a9" stroke-width="0.9"/>
<rect x="446.17" y="95.7" width="3.5" height="15.7" fill="#1f4b53" stroke="#16363c" stroke-width="0.5"/>
<line x1="446.17" y1="103.3" x2="449.67" y2="103.3" stroke="#222" stroke-width="0.9"/>
<line x1="451.92" y1="32.5" x2="451.92" y2="103.2" stroke="#a9a9a9" stroke-width="0.9"/>
<rect x="450.17" y="58.9" width="3.5" height="17.9" fill="#f5922f" stroke="#b8651c" stroke-width="0.5"/>
<line x1="450.17" y1="67.3" x2="453.67" y2="67.3" stroke="#3a2410" stroke-width="0.9"/>
<line x1="455.92" y1="42" x2="455.92" y2="100.5" stroke="#a9a9a9" stroke-width="0.9"/>
<rect x="454.17" y="57.8" width="3.5" height="17.9" fill="#1ca6e0" stroke="#1479a8" stroke-width="0.5"/>
<line x1="454.17" y1="66.3" x2="457.67" y2="66.3" stroke="#0d3a55" stroke-width="0.9"/>
<text x="452.62" y="31.2" font-size="6.6" fill="#111" text-anchor="middle" stroke="#111" stroke-width="0.07" >****</text>
<text x="0" y="0" font-size="6.4" fill="#222" text-anchor="end" stroke="#222" stroke-width="0.07" transform="translate(461.72,134.6) rotate(-25)">BRCA</text>
<line x1="467.85" y1="129" x2="467.85" y2="130.8" stroke="#7a7a7a" stroke-width="0.6"/>
<line x1="463.85" y1="65.6" x2="463.85" y2="84.9" stroke="#a9a9a9" stroke-width="0.9"/>
<rect x="462.1" y="71.1" width="3.5" height="7" fill="#1f4b53" stroke="#16363c" stroke-width="0.5"/>
<line x1="462.1" y1="73.8" x2="465.6" y2="73.8" stroke="#222" stroke-width="0.9"/>
<line x1="467.85" y1="38.5" x2="467.85" y2="72.7" stroke="#a9a9a9" stroke-width="0.9"/>
<rect x="466.1" y="49.7" width="3.5" height="9.9" fill="#f5922f" stroke="#b8651c" stroke-width="0.5"/>
<line x1="466.1" y1="54.1" x2="469.6" y2="54.1" stroke="#3a2410" stroke-width="0.9"/>
<line x1="471.85" y1="33.8" x2="471.85" y2="71.7" stroke="#a9a9a9" stroke-width="0.9"/>
<rect x="470.1" y="48" width="3.5" height="10.6" fill="#1ca6e0" stroke="#1479a8" stroke-width="0.5"/>
<line x1="470.1" y1="53.5" x2="473.6" y2="53.5" stroke="#0d3a55" stroke-width="0.9"/>
<text x="468.55" y="31.2" font-size="6.6" fill="#111" text-anchor="middle" stroke="#111" stroke-width="0.07" >****</text>
<text x="0" y="0" font-size="6.4" fill="#222" text-anchor="end" stroke="#222" stroke-width="0.07" transform="translate(477.65,134.6) rotate(-25)">COAD</text>
<line x1="483.78" y1="129" x2="483.78" y2="130.8" stroke="#7a7a7a" stroke-width="0.6"/>
<line x1="479.78" y1="67" x2="479.78" y2="120.5" stroke="#a9a9a9" stroke-width="0.9"/>
<rect x="478.03" y="79.2" width="3.5" height="24.1" fill="#1f4b53" stroke="#16363c" stroke-width="0.5"/>
<line x1="478.03" y1="81.9" x2="481.53" y2="81.9" stroke="#222" stroke-width="0.9"/>
<line x1="483.78" y1="32.4" x2="483.78" y2="89.3" stroke="#a9a9a9" stroke-width="0.9"/>
<rect x="482.03" y="52.8" width="3.5" height="14.8" fill="#f5922f" stroke="#b8651c" stroke-width="0.5"/>
<line x1="482.03" y1="59.1" x2="485.53" y2="59.1" stroke="#3a2410" stroke-width="0.9"/>
<line x1="487.78" y1="39.2" x2="487.78" y2="83.5" stroke="#a9a9a9" stroke-width="0.9"/>
<rect x="486.03" y="53.7" width="3.5" height="12.6" fill="#1ca6e0" stroke="#1479a8" stroke-width="0.5"/>
<line x1="486.03" y1="59.9" x2="489.53" y2="59.9" stroke="#0d3a55" stroke-width="0.9"/>
<text x="484.48" y="31.2" font-size="6.6" fill="#111" text-anchor="middle" stroke="#111" stroke-width="0.07" >****</text>
<text x="0" y="0" font-size="6.4" fill="#222" text-anchor="end" stroke="#222" stroke-width="0.07" transform="translate(493.58,134.6) rotate(-25)">STAD</text>
<line x1="499.71" y1="129" x2="499.71" y2="130.8" stroke="#7a7a7a" stroke-width="0.6"/>
<line x1="495.71" y1="105.3" x2="495.71" y2="124.1" stroke="#a9a9a9" stroke-width="0.9"/>
<rect x="493.96" y="112.8" width="3.5" height="6.7" fill="#1f4b53" stroke="#16363c" stroke-width="0.5"/>
<line x1="493.96" y1="116" x2="497.46" y2="116" stroke="#222" stroke-width="0.9"/>
<line x1="499.71" y1="80.2" x2="499.71" y2="113.3" stroke="#a9a9a9" stroke-width="0.9"/>
<rect x="497.96" y="92.3" width="3.5" height="8.6" fill="#f5922f" stroke="#b8651c" stroke-width="0.5"/>
<line x1="497.96" y1="96.8" x2="501.46" y2="96.8" stroke="#3a2410" stroke-width="0.9"/>
<line x1="503.71" y1="63.6" x2="503.71" y2="110.3" stroke="#a9a9a9" stroke-width="0.9"/>
<rect x="501.96" y="83.5" width="3.5" height="14.7" fill="#1ca6e0" stroke="#1479a8" stroke-width="0.5"/>
<line x1="501.96" y1="90.3" x2="505.46" y2="90.3" stroke="#0d3a55" stroke-width="0.9"/>
<text x="500.41" y="31.2" font-size="6.6" fill="#111" text-anchor="middle" stroke="#111" stroke-width="0.07" >****</text>
<text x="0" y="0" font-size="6.4" fill="#222" text-anchor="end" stroke="#222" stroke-width="0.07" transform="translate(509.51,134.6) rotate(-25)">KIRC</text>
<line x1="515.64" y1="129" x2="515.64" y2="130.8" stroke="#7a7a7a" stroke-width="0.6"/>
<line x1="511.64" y1="74" x2="511.64" y2="124.1" stroke="#a9a9a9" stroke-width="0.9"/>
<rect x="509.89" y="101" width="3.5" height="17" fill="#1f4b53" stroke="#16363c" stroke-width="0.5"/>
<line x1="509.89" y1="113.8" x2="513.39" y2="113.8" stroke="#222" stroke-width="0.9"/>
<line x1="515.64" y1="80.8" x2="515.64" y2="122.1" stroke="#a9a9a9" stroke-width="0.9"/>
<rect x="513.89" y="96.4" width="3.5" height="11.7" fill="#f5922f" stroke="#b8651c" stroke-width="0.5"/>
<line x1="513.89" y1="101.8" x2="517.39" y2="101.8" stroke="#3a2410" stroke-width="0.9"/>
<line x1="519.64" y1="78.1" x2="519.64" y2="120" stroke="#a9a9a9" stroke-width="0.9"/>
<rect x="517.89" y="95" width="3.5" height="11.6" fill="#1ca6e0" stroke="#1479a8" stroke-width="0.5"/>
<line x1="517.89" y1="102.5" x2="521.39" y2="102.5" stroke="#0d3a55" stroke-width="0.9"/>
<text x="516.34" y="31.2" font-size="6.6" fill="#111" text-anchor="middle" stroke="#111" stroke-width="0.07" >****</text>
<text x="0" y="0" font-size="6.4" fill="#222" text-anchor="end" stroke="#222" stroke-width="0.07" transform="translate(525.44,134.6) rotate(-25)">THCA</text>
<line x1="531.57" y1="129" x2="531.57" y2="130.8" stroke="#7a7a7a" stroke-width="0.6"/>
<line x1="527.57" y1="69" x2="527.57" y2="104.5" stroke="#a9a9a9" stroke-width="0.9"/>
<rect x="525.82" y="74.7" width="3.5" height="12.6" fill="#1f4b53" stroke="#16363c" stroke-width="0.5"/>
<line x1="525.82" y1="79.2" x2="529.32" y2="79.2" stroke="#222" stroke-width="0.9"/>
<line x1="531.57" y1="42.6" x2="531.57" y2="78.8" stroke="#a9a9a9" stroke-width="0.9"/>
<rect x="529.82" y="56.1" width="3.5" height="10.6" fill="#f5922f" stroke="#b8651c" stroke-width="0.5"/>
<line x1="529.82" y1="61.8" x2="533.32" y2="61.8" stroke="#3a2410" stroke-width="0.9"/>
<line x1="535.57" y1="45" x2="535.57" y2="79.5" stroke="#a9a9a9" stroke-width="0.9"/>
<rect x="533.82" y="55" width="3.5" height="10" fill="#1ca6e0" stroke="#1479a8" stroke-width="0.5"/>
<line x1="533.82" y1="59.9" x2="537.32" y2="59.9" stroke="#0d3a55" stroke-width="0.9"/>
<text x="532.27" y="31.2" font-size="6.6" fill="#111" text-anchor="middle" stroke="#111" stroke-width="0.07" >****</text>
<text x="0" y="0" font-size="6.4" fill="#222" text-anchor="end" stroke="#222" stroke-width="0.07" transform="translate(541.37,134.6) rotate(-25)">HNSC</text>
<text x="459.8" y="145.6" font-size="7" fill="#111" text-anchor="middle" stroke="#111" stroke-width="0.07" >cancer</text>
<text x="403.2" y="21.4" font-size="7.1" fill="#222" text-anchor="start" stroke="#222" stroke-width="0.07" >group</text>
<rect x="423.6" y="18.1" width="3.0" height="2.8" fill="#1f4b53"/>
<text x="428.8" y="21.4" font-size="7.1" fill="#222" text-anchor="start" stroke="#222" stroke-width="0.07" >normal</text>
<rect x="454.8" y="18.1" width="3.0" height="2.8" fill="#f5922f"/>
<text x="460.8" y="21.4" font-size="7.1" fill="#222" text-anchor="start" stroke="#222" stroke-width="0.07" >Stage I/II</text>
<rect x="491.8" y="18.1" width="3.0" height="2.8" fill="#1ca6e0"/>
<text x="497.6" y="21.4" font-size="7.1" fill="#222" text-anchor="start" stroke="#222" stroke-width="0.07" >Stage III/IV</text>
<line x1="27.8" y1="164.8" x2="27.8" y2="241" stroke="#333" stroke-width="0.7"/>
<line x1="27.8" y1="241" x2="105" y2="241" stroke="#333" stroke-width="0.7"/>
<line x1="26.2" y1="237.6" x2="27.8" y2="237.6" stroke="#333" stroke-width="0.5"/>
<text x="25.4" y="239.2" font-size="4.6" fill="#444" text-anchor="end" stroke="#444" stroke-width="0.07" >0.00</text>
<line x1="26.2" y1="220.2" x2="27.8" y2="220.2" stroke="#333" stroke-width="0.5"/>
<text x="25.4" y="221.8" font-size="4.6" fill="#444" text-anchor="end" stroke="#444" stroke-width="0.07" >0.25</text>
<line x1="26.2" y1="202.8" x2="27.8" y2="202.8" stroke="#333" stroke-width="0.5"/>
<text x="25.4" y="204.4" font-size="4.6" fill="#444" text-anchor="end" stroke="#444" stroke-width="0.07" >0.50</text>
<line x1="26.2" y1="185.4" x2="27.8" y2="185.4" stroke="#333" stroke-width="0.5"/>
<text x="25.4" y="187" font-size="4.6" fill="#444" text-anchor="end" stroke="#444" stroke-width="0.07" >0.75</text>
<line x1="26.2" y1="168" x2="27.8" y2="168" stroke="#333" stroke-width="0.5"/>
<text x="25.4" y="169.6" font-size="4.6" fill="#444" text-anchor="end" stroke="#444" stroke-width="0.07" >1.00</text>
<line x1="31.2" y1="241" x2="31.2" y2="242.6" stroke="#333" stroke-width="0.5"/>
<text x="31.2" y="247.9" font-size="4.6" fill="#444" text-anchor="middle" stroke="#444" stroke-width="0.07" >0</text>
<line x1="55.1" y1="241" x2="55.1" y2="242.6" stroke="#333" stroke-width="0.5"/>
<text x="55.1" y="247.9" font-size="4.6" fill="#444" text-anchor="middle" stroke="#444" stroke-width="0.07" >50</text>
<line x1="79" y1="241" x2="79" y2="242.6" stroke="#333" stroke-width="0.5"/>
<text x="79" y="247.9" font-size="4.6" fill="#444" text-anchor="middle" stroke="#444" stroke-width="0.07" >100</text>
<line x1="102.9" y1="241" x2="102.9" y2="242.6" stroke="#333" stroke-width="0.5"/>
<text x="102.9" y="247.9" font-size="4.6" fill="#444" text-anchor="middle" stroke="#444" stroke-width="0.07" >150</text>
<text x="69.6" y="254.1" font-size="4.8" fill="#111" text-anchor="middle" stroke="#111" stroke-width="0.07" >Time (months)</text>
<text x="0" y="0" font-size="4.8" fill="#111" text-anchor="middle" stroke="#111" stroke-width="0.07" transform="translate(14,202.8) rotate(-90)">Survival probability</text>
<text x="69.4" y="161.4" font-size="7.2" fill="#111" text-anchor="middle" stroke="#111" stroke-width="0.05" >ACC</text>
<line x1="75.8" y1="169.3" x2="84.4" y2="169.3" stroke="#fc4e07" stroke-width="1.3"/>
<line x1="80.1" y1="167.5" x2="80.1" y2="169.9" stroke="#fc4e07" stroke-width="0.6"/>
<text x="87" y="170.9" font-size="4.6" fill="#222" text-anchor="start" stroke="#222" stroke-width="0.07" >high(N=40)</text>
<line x1="75.8" y1="179.8" x2="84.4" y2="179.8" stroke="#1f3f45" stroke-width="1.3"/>
<line x1="80.1" y1="178" x2="80.1" y2="180.4" stroke="#1f3f45" stroke-width="0.6"/>
<text x="87" y="181.4" font-size="4.6" fill="#222" text-anchor="start" stroke="#222" stroke-width="0.07" >low(N=39)</text>
<text x="31" y="232.7" font-size="5.5" fill="#111" text-anchor="start" stroke="#111" stroke-width="0.07" ><tspan font-style="italic">p</tspan> &lt; 0.0001</text>
<polyline points="31.5,167.4 50.5,167.4 51.9,167.4 51.9,169.5 52.88,169.5 52.88,170.77 53.4,170.77 53.4,172.5 54.74,172.5 54.74,173.61 56.3,173.61 56.3,174.5 69.5,174.5 69.5,188.5" fill="none" stroke="#1f3f45" stroke-width="1.6" stroke-linejoin="miter"/>
<path d="M39.42,165.7v3.4M45.75,165.7v3.4M48.92,165.7v3.4M57.95,172.8v3.4M64.55,172.8v3.4M67.85,172.8v3.4" stroke="#1f3f45" stroke-width="0.9"/>
<polyline points="31.5,167.4 33.7,167.4 33.7,169.5 35.03,169.5 35.03,170.77 35.9,170.77 35.9,172.5 36.29,172.5 36.29,174.04 37,174.04 37,175.27 37.4,175.27 37.4,176.8 37.61,176.8 37.61,178.13 38.3,178.13 38.3,178.99 38.28,178.99 38.28,180.54 38.53,180.54 38.53,181.84 38.58,181.84 38.58,183.34 39.37,183.34 39.37,184.09 39.5,184.09 39.5,185.5 39.95,185.5 39.95,186.51 39.86,186.51 39.86,188.07 39.87,188.07 39.87,189.53 39.83,189.53 39.83,191.03 39.97,191.03 39.97,192.36 40.3,192.36 40.3,193.5 42.5,193.5 42.5,195.7 44.01,195.7 44.01,196.25 44.73,196.25 44.73,197.61 46.1,197.61 46.1,198.3 47.47,198.3 47.47,199.63 48.88,199.63 48.88,200.92 50.2,200.92 50.2,202.3 50.2,206.7 58.5,206.7 58.5,215.3 64.8,215.3 64.8,220.7 90,220.7" fill="none" stroke="#fc4e07" stroke-width="1.6" stroke-linejoin="miter"/>
<path d="M52.28,205v3.4M60.08,213.6v3.4M63.22,213.6v3.4M66.38,219v3.4M72.67,219v3.4M75.83,219v3.4M78.97,219v3.4M82.12,219v3.4" stroke="#fc4e07" stroke-width="0.9"/>
<line x1="69.5" y1="188.6" x2="106.4" y2="188.6" stroke="#8fa3a6" stroke-width="0.7"/><path d="M75,187.8v1.6M80,187.8v1.6M86,187.8v1.6M90.5,187.8v1.6M95,187.8v1.6M106,187.8v1.6" stroke="#8fa3a6" stroke-width="0.5"/>
<line x1="140.5" y1="164.8" x2="140.5" y2="241" stroke="#333" stroke-width="0.7"/>
<line x1="140.5" y1="241" x2="220" y2="241" stroke="#333" stroke-width="0.7"/>
<line x1="138.9" y1="237.6" x2="140.5" y2="237.6" stroke="#333" stroke-width="0.5"/>
<text x="138.1" y="239.2" font-size="4.6" fill="#444" text-anchor="end" stroke="#444" stroke-width="0.07" >0.00</text>
<line x1="138.9" y1="220.2" x2="140.5" y2="220.2" stroke="#333" stroke-width="0.5"/>
<text x="138.1" y="221.8" font-size="4.6" fill="#444" text-anchor="end" stroke="#444" stroke-width="0.07" >0.25</text>
<line x1="138.9" y1="202.8" x2="140.5" y2="202.8" stroke="#333" stroke-width="0.5"/>
<text x="138.1" y="204.4" font-size="4.6" fill="#444" text-anchor="end" stroke="#444" stroke-width="0.07" >0.50</text>
<line x1="138.9" y1="185.4" x2="140.5" y2="185.4" stroke="#333" stroke-width="0.5"/>
<text x="138.1" y="187" font-size="4.6" fill="#444" text-anchor="end" stroke="#444" stroke-width="0.07" >0.75</text>
<line x1="138.9" y1="168" x2="140.5" y2="168" stroke="#333" stroke-width="0.5"/>
<text x="138.1" y="169.6" font-size="4.6" fill="#444" text-anchor="end" stroke="#444" stroke-width="0.07" >1.00</text>
<line x1="144" y1="241" x2="144" y2="242.6" stroke="#333" stroke-width="0.5"/>
<text x="144" y="247.9" font-size="4.6" fill="#444" text-anchor="middle" stroke="#444" stroke-width="0.07" >0</text>
<line x1="168.3" y1="241" x2="168.3" y2="242.6" stroke="#333" stroke-width="0.5"/>
<text x="168.3" y="247.9" font-size="4.6" fill="#444" text-anchor="middle" stroke="#444" stroke-width="0.07" >50</text>
<line x1="192.6" y1="241" x2="192.6" y2="242.6" stroke="#333" stroke-width="0.5"/>
<text x="192.6" y="247.9" font-size="4.6" fill="#444" text-anchor="middle" stroke="#444" stroke-width="0.07" >100</text>
<line x1="216.9" y1="241" x2="216.9" y2="242.6" stroke="#333" stroke-width="0.5"/>
<text x="216.9" y="247.9" font-size="4.6" fill="#444" text-anchor="middle" stroke="#444" stroke-width="0.07" >150</text>
<text x="183.5" y="254.1" font-size="4.8" fill="#111" text-anchor="middle" stroke="#111" stroke-width="0.07" >Time (months)</text>
<text x="0" y="0" font-size="4.8" fill="#111" text-anchor="middle" stroke="#111" stroke-width="0.07" transform="translate(126.7,202.8) rotate(-90)">Survival probability</text>
<text x="183.2" y="161.4" font-size="7.2" fill="#111" text-anchor="middle" stroke="#111" stroke-width="0.05" >KIRC</text>
<line x1="188.5" y1="169.3" x2="197.1" y2="169.3" stroke="#fc4e07" stroke-width="1.3"/>
<line x1="192.8" y1="167.5" x2="192.8" y2="169.9" stroke="#fc4e07" stroke-width="0.6"/>
<text x="199.7" y="170.9" font-size="4.6" fill="#222" text-anchor="start" stroke="#222" stroke-width="0.07" >high(N=265)</text>
<line x1="188.5" y1="179.8" x2="197.1" y2="179.8" stroke="#1f3f45" stroke-width="1.3"/>
<line x1="192.8" y1="178" x2="192.8" y2="180.4" stroke="#1f3f45" stroke-width="0.6"/>
<text x="199.7" y="181.4" font-size="4.6" fill="#222" text-anchor="start" stroke="#222" stroke-width="0.07" >low(N=265)</text>
<text x="143.8" y="232.7" font-size="5.5" fill="#111" text-anchor="start" stroke="#111" stroke-width="0.07" ><tspan font-style="italic">p</tspan> &lt; 0.0001</text>
<polyline points="143,167.5 144.08,167.5 144.08,168.17 145.23,168.17 145.23,168.77 146.4,168.77 146.4,169.35 148.22,169.35 148.22,169.28 149.05,169.28 149.05,170.2 150.5,170.2 150.5,170.5 151.97,170.5 151.97,171.13 152.97,171.13 152.97,172.23 154.11,172.23 154.11,173.19 155.67,173.19 155.67,173.73 156.81,173.73 156.81,174.69 158.14,174.69 158.14,175.46 159.5,175.46 159.5,176.2 160.99,176.2 160.99,177.11 162.2,177.11 162.2,178.3 163.14,178.3 163.14,179.76 164.7,179.76 164.7,180.6 166.23,180.6 166.23,180.78 167.26,180.78 167.26,181.46 168.55,181.46 168.55,181.88 170.17,181.88 170.17,181.97 170.94,181.97 170.94,182.91 172.37,182.91 172.37,183.19 173.84,183.19 173.84,183.43 175.03,183.43 175.03,183.95 176.57,183.95 176.57,184.12 177.7,184.12 177.7,184.7 178.85,184.7 178.85,186.15 180.86,186.15 180.86,186.74 181.82,186.74 181.82,188.38 183.21,188.38 183.21,189.59 184.8,189.59 184.8,190.6 185.86,190.6 185.86,192.34 187.49,192.34 187.49,193.51 189.09,193.51 189.09,194.71 190.1,194.71 190.1,196.5 217.9,196.5" fill="none" stroke="#1f3f45" stroke-width="1.6" stroke-linejoin="miter"/>
<path d="M166.32,179.41v3.4M179.47,184.47v3.4M183.03,187.43v3.4M194.73,194.8v3.4" stroke="#1f3f45" stroke-width="0.9"/>
<polyline points="143,168 143.83,168 143.83,169.44 144.82,169.44 144.82,170.73 145.84,170.73 145.84,171.99 146.79,171.99 146.79,173.31 147.95,173.31 147.95,174.43 148.87,174.43 148.87,175.78 149.63,175.78 149.63,177.3 150.8,177.3 150.8,178.4 152,178.4 152,179.84 153.73,179.84 153.73,180.75 155.08,180.75 155.08,182.04 156.24,182.04 156.24,183.52 157.4,183.52 157.4,185 158.37,185 158.37,186.41 159.81,186.41 159.81,187.35 161.42,187.35 161.42,188.12 162.49,188.12 162.49,189.43 163.9,189.43 163.9,190.4 165.29,190.4 165.29,191.35 166.46,191.35 166.46,192.52 167.01,192.52 167.01,194.31 168.19,194.31 168.19,195.47 169.5,195.47 169.5,196.5 170.76,196.5 170.76,197.62 171.78,197.62 171.78,198.97 173.21,198.97 173.21,199.91 174.2,199.91 174.2,201.3 175.9,201.3 175.9,202.27 177.22,202.27 177.22,203.61 178.33,203.61 178.33,205.17 179.72,205.17 179.72,206.44 181.39,206.44 181.39,207.44 182.5,207.44 182.5,209 183.88,209 183.88,208.8 184.95,208.8 184.95,208.91 186.14,208.91 186.14,208.9 187.19,208.9 187.19,209.03 188.48,209.03 188.48,208.92 189.75,208.92 189.75,208.83 191.15,208.83 191.15,208.61 191.84,208.61 191.84,209.1 193.04,209.1 193.04,209.08 194.68,209.08 194.68,208.62 195.36,208.62 195.36,209.12 196.98,209.12 196.98,208.68 198.41,208.68 198.41,208.43 199.52,208.43 199.52,208.5 200.5,208.5 200.5,208.7 200.56,208.7 200.56,210.1 200.61,210.1 200.61,211.51 201.42,211.51 201.42,212.16 201.42,212.16 201.42,213.62 201.5,213.62 201.5,215 210.8,215" fill="none" stroke="#fc4e07" stroke-width="1.6" stroke-linejoin="miter"/>
<path d="M166.7,191.75v3.4M184,207.28v3.4M187,207.23v3.4M196,207.07v3.4" stroke="#fc4e07" stroke-width="0.9"/>
<line x1="245" y1="164.8" x2="245" y2="241" stroke="#333" stroke-width="0.7"/>
<line x1="245" y1="241" x2="324" y2="241" stroke="#333" stroke-width="0.7"/>
<line x1="243.4" y1="237.6" x2="245" y2="237.6" stroke="#333" stroke-width="0.5"/>
<text x="242.6" y="239.2" font-size="4.6" fill="#444" text-anchor="end" stroke="#444" stroke-width="0.07" >0.00</text>
<line x1="243.4" y1="220.2" x2="245" y2="220.2" stroke="#333" stroke-width="0.5"/>
<text x="242.6" y="221.8" font-size="4.6" fill="#444" text-anchor="end" stroke="#444" stroke-width="0.07" >0.25</text>
<line x1="243.4" y1="202.8" x2="245" y2="202.8" stroke="#333" stroke-width="0.5"/>
<text x="242.6" y="204.4" font-size="4.6" fill="#444" text-anchor="end" stroke="#444" stroke-width="0.07" >0.50</text>
<line x1="243.4" y1="185.4" x2="245" y2="185.4" stroke="#333" stroke-width="0.5"/>
<text x="242.6" y="187" font-size="4.6" fill="#444" text-anchor="end" stroke="#444" stroke-width="0.07" >0.75</text>
<line x1="243.4" y1="168" x2="245" y2="168" stroke="#333" stroke-width="0.5"/>
<text x="242.6" y="169.6" font-size="4.6" fill="#444" text-anchor="end" stroke="#444" stroke-width="0.07" >1.00</text>
<line x1="248.6" y1="241" x2="248.6" y2="242.6" stroke="#333" stroke-width="0.5"/>
<text x="248.6" y="247.9" font-size="4.6" fill="#444" text-anchor="middle" stroke="#444" stroke-width="0.07" >0</text>
<line x1="266.8" y1="241" x2="266.8" y2="242.6" stroke="#333" stroke-width="0.5"/>
<text x="266.8" y="247.9" font-size="4.6" fill="#444" text-anchor="middle" stroke="#444" stroke-width="0.07" >50</text>
<line x1="285" y1="241" x2="285" y2="242.6" stroke="#333" stroke-width="0.5"/>
<text x="285" y="247.9" font-size="4.6" fill="#444" text-anchor="middle" stroke="#444" stroke-width="0.07" >100</text>
<line x1="303.2" y1="241" x2="303.2" y2="242.6" stroke="#333" stroke-width="0.5"/>
<text x="303.2" y="247.9" font-size="4.6" fill="#444" text-anchor="middle" stroke="#444" stroke-width="0.07" >150</text>
<line x1="321.4" y1="241" x2="321.4" y2="242.6" stroke="#333" stroke-width="0.5"/>
<text x="321.4" y="247.9" font-size="4.6" fill="#444" text-anchor="middle" stroke="#444" stroke-width="0.07" >200</text>
<text x="287.8" y="254.1" font-size="4.8" fill="#111" text-anchor="middle" stroke="#111" stroke-width="0.07" >Time (months)</text>
<text x="0" y="0" font-size="4.8" fill="#111" text-anchor="middle" stroke="#111" stroke-width="0.07" transform="translate(231.2,202.8) rotate(-90)">Survival probability</text>
<text x="287.2" y="161.4" font-size="7.2" fill="#111" text-anchor="middle" stroke="#111" stroke-width="0.05" >KIRP</text>
<line x1="293" y1="169.3" x2="301.6" y2="169.3" stroke="#fc4e07" stroke-width="1.3"/>
<line x1="297.3" y1="167.5" x2="297.3" y2="169.9" stroke="#fc4e07" stroke-width="0.6"/>
<text x="304.2" y="170.9" font-size="4.6" fill="#222" text-anchor="start" stroke="#222" stroke-width="0.07" >high(N=144)</text>
<line x1="293" y1="179.8" x2="301.6" y2="179.8" stroke="#1f3f45" stroke-width="1.3"/>
<line x1="297.3" y1="178" x2="297.3" y2="180.4" stroke="#1f3f45" stroke-width="0.6"/>
<text x="304.2" y="181.4" font-size="4.6" fill="#222" text-anchor="start" stroke="#222" stroke-width="0.07" >low(N=143)</text>
<text x="248.4" y="232.7" font-size="5.5" fill="#111" text-anchor="start" stroke="#111" stroke-width="0.07" ><tspan font-style="italic">p</tspan> = 0.00015</text>
<polyline points="248.4,167.1 249.62,167.1 249.62,167.35 250.97,167.35 250.97,167.47 252.48,167.47 252.48,167.42 253.8,167.42 253.8,167.57 255.24,167.57 255.24,167.59 256.6,167.59 256.6,167.7 258.19,167.7 258.19,167.87 259.16,167.87 259.16,168.66 260.76,168.66 260.76,168.82 262.07,168.82 262.07,169.27 263.3,169.27 263.3,169.8 264.03,169.8 264.03,171.34 264.69,171.34 264.69,172.94 265.4,172.94 265.4,174.5 266.02,174.5 266.02,175.75 266.71,175.75 266.71,176.94 266.75,176.94 266.75,178.78 267.4,178.78 267.4,180 278.9,180 279.37,180 279.37,180.95 279.36,180.95 279.36,182.38 279.77,182.38 279.77,183.4 279.55,183.4 279.55,185.04 279.92,185.04 279.92,186.1 280.39,186.1 280.39,187.04 280.65,187.04 280.65,188.2 280.51,188.2 280.51,189.77 280.9,189.77 280.9,190.8 296.5,190.8" fill="none" stroke="#1f3f45" stroke-width="1.6" stroke-linejoin="miter"/>
<path d="M258.28,166.53v3.4M261.62,167.58v3.4M269.32,178.3v3.4M282.46,189.1v3.4M294.94,189.1v3.4" stroke="#1f3f45" stroke-width="0.9"/>
<polyline points="249.1,167.1 249.45,167.1 249.45,168.6 249.93,168.6 249.93,169.97 250.58,169.97 250.58,171.17 251.1,171.17 251.1,172.5 251.71,172.5 251.71,173.92 252.46,173.92 252.46,175.19 253.38,175.19 253.38,176.3 253.8,176.3 253.8,177.9 255.05,177.9 255.05,179.59 256.67,179.59 256.67,180.89 257.9,180.89 257.9,182.6 259.36,182.6 259.36,183.34 260.63,183.34 260.63,184.27 261.94,184.27 261.94,185.16 263.3,185.16 263.3,186 264.78,186 264.78,186.7 266.33,186.7 266.33,187.33 267.23,187.33 267.23,188.61 268.99,188.61 268.99,189.03 270.1,189.03 270.1,190.1 271.47,190.1 271.47,190.93 273,190.93 273,191.6 273.91,191.6 273.91,192.89 275.5,192.89 275.5,193.5 276.6,193.5 276.6,194.62 278.06,194.62 278.06,195.39 279.3,195.39 279.3,196.38 280.3,196.38 280.3,197.6 280.81,197.6 280.81,198.99 281.48,198.99 281.48,200.22 282.03,200.22 282.03,201.57 282.75,201.57 282.75,202.75 283.7,202.75 283.7,203.7 284.98,203.7 284.98,203.64 285.92,203.64 285.92,203.92 287.39,203.92 287.39,203.67 288.56,203.67 288.56,203.73 289.58,203.73 289.58,203.93 290.92,203.93 290.92,203.81 291.82,203.81 291.82,204.14 293.31,204.14 293.31,203.87 294.39,203.87 294.39,204.01 295.94,204.01 295.94,203.69 297.24,203.69 297.24,203.61 298.36,203.61 298.36,203.71 299.14,203.71 299.14,204.15 300.38,204.15 300.38,204.14 301.41,204.14 301.41,204.33 303.04,204.33 303.04,203.92 304.05,203.92 304.05,204.14 305.61,204.14 305.61,203.79 306.24,203.79 306.24,204.38 307.45,204.38 307.45,204.4 309.02,204.4 309.02,204.05 310.07,204.05 310.07,204.23 311.22,204.23 311.22,204.3 312.86,204.3 312.86,203.89 313.54,203.89 313.54,204.42 314.83,204.42 314.83,204.36 315.97,204.36 315.97,204.44 317.3,204.44 317.3,204.33 318.89,204.33 318.89,203.97 319.79,203.97 319.79,204.28 321,204.28 321,204.3" fill="none" stroke="#fc4e07" stroke-width="1.6" stroke-linejoin="miter"/>
<path d="M268.4,187.38v3.4M277.9,193.85v3.4M288.36,202.07v3.4M291.47,202.12v3.4M294.58,202.18v3.4M297.69,202.23v3.4M303.9,202.33v3.4M313.23,202.48v3.4M319.45,202.58v3.4" stroke="#fc4e07" stroke-width="0.9"/>
<line x1="351.6" y1="164.8" x2="351.6" y2="241" stroke="#333" stroke-width="0.7"/>
<line x1="351.6" y1="241" x2="431.8" y2="241" stroke="#333" stroke-width="0.7"/>
<line x1="350" y1="237.6" x2="351.6" y2="237.6" stroke="#333" stroke-width="0.5"/>
<text x="349.2" y="239.2" font-size="4.6" fill="#444" text-anchor="end" stroke="#444" stroke-width="0.07" >0.00</text>
<line x1="350" y1="220.2" x2="351.6" y2="220.2" stroke="#333" stroke-width="0.5"/>
<text x="349.2" y="221.8" font-size="4.6" fill="#444" text-anchor="end" stroke="#444" stroke-width="0.07" >0.25</text>
<line x1="350" y1="202.8" x2="351.6" y2="202.8" stroke="#333" stroke-width="0.5"/>
<text x="349.2" y="204.4" font-size="4.6" fill="#444" text-anchor="end" stroke="#444" stroke-width="0.07" >0.50</text>
<line x1="350" y1="185.4" x2="351.6" y2="185.4" stroke="#333" stroke-width="0.5"/>
<text x="349.2" y="187" font-size="4.6" fill="#444" text-anchor="end" stroke="#444" stroke-width="0.07" >0.75</text>
<line x1="350" y1="168" x2="351.6" y2="168" stroke="#333" stroke-width="0.5"/>
<text x="349.2" y="169.6" font-size="4.6" fill="#444" text-anchor="end" stroke="#444" stroke-width="0.07" >1.00</text>
<line x1="355.5" y1="241" x2="355.5" y2="242.6" stroke="#333" stroke-width="0.5"/>
<text x="355.5" y="247.9" font-size="4.6" fill="#444" text-anchor="middle" stroke="#444" stroke-width="0.07" >0</text>
<line x1="373.7" y1="241" x2="373.7" y2="242.6" stroke="#333" stroke-width="0.5"/>
<text x="373.7" y="247.9" font-size="4.6" fill="#444" text-anchor="middle" stroke="#444" stroke-width="0.07" >50</text>
<line x1="391.9" y1="241" x2="391.9" y2="242.6" stroke="#333" stroke-width="0.5"/>
<text x="391.9" y="247.9" font-size="4.6" fill="#444" text-anchor="middle" stroke="#444" stroke-width="0.07" >100</text>
<line x1="410.1" y1="241" x2="410.1" y2="242.6" stroke="#333" stroke-width="0.5"/>
<text x="410.1" y="247.9" font-size="4.6" fill="#444" text-anchor="middle" stroke="#444" stroke-width="0.07" >150</text>
<line x1="428.3" y1="241" x2="428.3" y2="242.6" stroke="#333" stroke-width="0.5"/>
<text x="428.3" y="247.9" font-size="4.6" fill="#444" text-anchor="middle" stroke="#444" stroke-width="0.07" >200</text>
<text x="395.15" y="254.1" font-size="4.8" fill="#111" text-anchor="middle" stroke="#111" stroke-width="0.07" >Time (months)</text>
<text x="0" y="0" font-size="4.8" fill="#111" text-anchor="middle" stroke="#111" stroke-width="0.07" transform="translate(337.8,202.8) rotate(-90)">Survival probability</text>
<text x="394.2" y="161.4" font-size="7.2" fill="#111" text-anchor="middle" stroke="#111" stroke-width="0.05" >LGG</text>
<line x1="399.6" y1="169.3" x2="408.2" y2="169.3" stroke="#fc4e07" stroke-width="1.3"/>
<line x1="403.9" y1="167.5" x2="403.9" y2="169.9" stroke="#fc4e07" stroke-width="0.6"/>
<text x="410.8" y="170.9" font-size="4.6" fill="#222" text-anchor="start" stroke="#222" stroke-width="0.07" >high(N=255)</text>
<line x1="399.6" y1="179.8" x2="408.2" y2="179.8" stroke="#1f3f45" stroke-width="1.3"/>
<line x1="403.9" y1="178" x2="403.9" y2="180.4" stroke="#1f3f45" stroke-width="0.6"/>
<text x="410.8" y="181.4" font-size="4.6" fill="#222" text-anchor="start" stroke="#222" stroke-width="0.07" >low(N=254)</text>
<text x="355.3" y="232.7" font-size="5.5" fill="#111" text-anchor="start" stroke="#111" stroke-width="0.07" ><tspan font-style="italic">p</tspan> &lt; 0.0001</text>
<polyline points="354.5,167.2 355.89,167.2 355.89,167.56 357.03,167.56 357.03,168.17 358.62,168.17 358.62,168.33 359.64,168.33 359.64,169.06 361.35,169.06 361.35,169.1 362.7,169.1 362.7,169.5 364.44,169.5 364.44,169.76 365.24,169.76 365.24,170.96 367.1,170.96 367.1,171.1 368.69,171.1 368.69,171.51 369.8,171.51 369.8,172.4 371.21,172.4 371.21,173.33 372.29,173.33 372.29,174.59 373.33,174.59 373.33,175.9 374.68,175.9 374.68,176.89 376.29,176.89 376.29,177.63 377.32,177.63 377.32,178.94 378.7,178.94 378.7,179.9 379.71,179.9 379.71,181.24 380.66,181.24 380.66,182.63 382.02,182.63 382.02,183.6 383.33,183.6 383.33,184.64 384.13,184.64 384.13,186.18 385.27,186.18 385.27,187.38 386.2,187.38 386.2,188.8 386.81,188.8 386.81,190.03 387.47,190.03 387.47,191.21 387.78,191.21 387.78,192.74 388.47,192.74 388.47,193.89 389.2,193.89 389.2,195 389.94,195 389.94,196.01 389.84,196.01 389.84,197.86 390.29,197.86 390.29,199.16 390.8,199.16 390.8,200.4 391.38,200.4 391.38,202 392.57,202 392.57,202.98 393.27,202.98 393.27,204.45 394.1,204.45 394.1,205.8 395.08,205.8 395.08,207.12 396.12,207.12 396.12,208.38 397.47,208.38 397.47,209.33 398.4,209.33 398.4,210.7 406,210.7 407.22,210.7 407.22,211.13 408.7,211.13 408.7,211.3 408.64,211.3 408.64,212.7 409.11,212.7 409.11,213.57 408.56,213.57 408.56,215.46 409.05,215.46 409.05,216.31 409.01,216.31 409.01,217.69 409.02,217.69 409.02,219.02 409.14,219.02 409.14,220.24 409.15,220.24 409.15,221.57 409.15,221.57 409.15,222.91 409.1,222.91 409.1,224.3 418,224.3 418,230.2 422.3,230.2" fill="none" stroke="#1f3f45" stroke-width="1.6" stroke-linejoin="miter"/>
<path d="M356.55,166.07v3.4M380.57,180.43v3.4M384.32,184.88v3.4M404.1,209v3.4M411.33,222.6v3.4" stroke="#1f3f45" stroke-width="0.9"/>
<polyline points="355.4,167.2 356.11,167.2 356.11,168.39 356.56,168.39 356.56,169.84 357.47,169.84 357.47,170.83 357.81,170.83 357.81,172.39 358.83,172.39 358.83,173.27 359.5,173.27 359.5,174.5 360.33,174.5 360.33,175.42 360.23,175.42 360.23,177.27 361.18,177.27 361.18,178.07 361.86,178.07 361.86,179.14 362.2,179.14 362.2,180.55 362.52,180.55 362.52,181.98 362.8,181.98 362.8,183.45 363.6,183.45 363.6,184.4 364.06,184.4 364.06,185.97 365.06,185.97 365.06,187 365.49,187 365.49,188.61 366.2,188.61 366.2,189.93 366.75,189.93 366.75,191.42 367.6,191.42 367.6,192.6 368.44,192.6 368.44,193.84 369.4,193.84 369.4,194.95 369.85,194.95 369.85,196.58 370.5,196.58 370.5,198 371.64,198 371.64,199.16 372.51,199.16 372.51,200.59 373.57,200.59 373.57,201.83 374.5,201.83 374.5,203.2 375.66,203.2 375.66,204.62 377.12,204.62 377.12,205.73 378.96,205.73 378.96,206.46 380,206.46 380,208 381.19,208 381.19,208.99 382.59,208.99 382.59,209.76 383.8,209.76 383.8,210.72 385.4,210.72 385.4,211.3 386.87,211.3 386.87,211.98 388.1,211.98 388.1,212.9 389.36,212.9 389.36,213.79 390.8,213.79 390.8,214.5 396.3,214.5 397.47,214.5 397.47,214.85 399.05,214.85 399.05,214.79 400.07,214.79 400.07,215.29 401.4,215.29 401.4,215.48 402.8,215.48 402.8,215.6 403.73,215.6 403.73,216.47 404,216.47 404,218 403.94,218 403.94,219.52 404.59,219.52 404.59,220.33 404.71,220.33 404.71,221.67 404.88,221.67 404.88,222.96 405,222.96 405,224.3 406.21,224.3 406.21,225.49 407.1,225.49 407.1,227 408.58,227 408.58,227.54 409.89,227.54 409.89,228.26 411.29,228.26 411.29,228.88 412.5,228.88 412.5,229.7 431.5,229.7" fill="none" stroke="#fc4e07" stroke-width="1.6" stroke-linejoin="miter"/>
<path d="M361.55,177.75v3.4M365.6,186.8v3.4M372.5,198.9v3.4M382.7,207.95v3.4M388.1,211.2v3.4" stroke="#fc4e07" stroke-width="0.9"/>
<line x1="455.8" y1="164.8" x2="455.8" y2="241" stroke="#333" stroke-width="0.7"/>
<line x1="455.8" y1="241" x2="534" y2="241" stroke="#333" stroke-width="0.7"/>
<line x1="454.2" y1="237.6" x2="455.8" y2="237.6" stroke="#333" stroke-width="0.5"/>
<text x="453.4" y="239.2" font-size="4.6" fill="#444" text-anchor="end" stroke="#444" stroke-width="0.07" >0.00</text>
<line x1="454.2" y1="220.2" x2="455.8" y2="220.2" stroke="#333" stroke-width="0.5"/>
<text x="453.4" y="221.8" font-size="4.6" fill="#444" text-anchor="end" stroke="#444" stroke-width="0.07" >0.25</text>
<line x1="454.2" y1="202.8" x2="455.8" y2="202.8" stroke="#333" stroke-width="0.5"/>
<text x="453.4" y="204.4" font-size="4.6" fill="#444" text-anchor="end" stroke="#444" stroke-width="0.07" >0.50</text>
<line x1="454.2" y1="185.4" x2="455.8" y2="185.4" stroke="#333" stroke-width="0.5"/>
<text x="453.4" y="187" font-size="4.6" fill="#444" text-anchor="end" stroke="#444" stroke-width="0.07" >0.75</text>
<line x1="454.2" y1="168" x2="455.8" y2="168" stroke="#333" stroke-width="0.5"/>
<text x="453.4" y="169.6" font-size="4.6" fill="#444" text-anchor="end" stroke="#444" stroke-width="0.07" >1.00</text>
<line x1="459.4" y1="241" x2="459.4" y2="242.6" stroke="#333" stroke-width="0.5"/>
<text x="459.4" y="247.9" font-size="4.6" fill="#444" text-anchor="middle" stroke="#444" stroke-width="0.07" >0</text>
<line x1="473.7" y1="241" x2="473.7" y2="242.6" stroke="#333" stroke-width="0.5"/>
<text x="473.7" y="247.9" font-size="4.6" fill="#444" text-anchor="middle" stroke="#444" stroke-width="0.07" >50</text>
<line x1="488" y1="241" x2="488" y2="242.6" stroke="#333" stroke-width="0.5"/>
<text x="488" y="247.9" font-size="4.6" fill="#444" text-anchor="middle" stroke="#444" stroke-width="0.07" >100</text>
<line x1="502.3" y1="241" x2="502.3" y2="242.6" stroke="#333" stroke-width="0.5"/>
<text x="502.3" y="247.9" font-size="4.6" fill="#444" text-anchor="middle" stroke="#444" stroke-width="0.07" >150</text>
<line x1="516.6" y1="241" x2="516.6" y2="242.6" stroke="#333" stroke-width="0.5"/>
<text x="516.6" y="247.9" font-size="4.6" fill="#444" text-anchor="middle" stroke="#444" stroke-width="0.07" >200</text>
<line x1="530.9" y1="241" x2="530.9" y2="242.6" stroke="#333" stroke-width="0.5"/>
<text x="530.9" y="247.9" font-size="4.6" fill="#444" text-anchor="middle" stroke="#444" stroke-width="0.07" >250</text>
<text x="498.2" y="254.1" font-size="4.8" fill="#111" text-anchor="middle" stroke="#111" stroke-width="0.07" >Time (months)</text>
<text x="0" y="0" font-size="4.8" fill="#111" text-anchor="middle" stroke="#111" stroke-width="0.07" transform="translate(442,202.8) rotate(-90)">Survival probability</text>
<text x="498" y="161.4" font-size="7.2" fill="#111" text-anchor="middle" stroke="#111" stroke-width="0.05" >LUAD</text>
<line x1="503.8" y1="169.3" x2="512.4" y2="169.3" stroke="#fc4e07" stroke-width="1.3"/>
<line x1="508.1" y1="167.5" x2="508.1" y2="169.9" stroke="#fc4e07" stroke-width="0.6"/>
<text x="515" y="170.9" font-size="4.6" fill="#222" text-anchor="start" stroke="#222" stroke-width="0.07" >high(N=252)</text>
<line x1="503.8" y1="179.8" x2="512.4" y2="179.8" stroke="#1f3f45" stroke-width="1.3"/>
<line x1="508.1" y1="178" x2="508.1" y2="180.4" stroke="#1f3f45" stroke-width="0.6"/>
<text x="515" y="181.4" font-size="4.6" fill="#222" text-anchor="start" stroke="#222" stroke-width="0.07" >low(N=252)</text>
<text x="459.2" y="232.7" font-size="5.5" fill="#111" text-anchor="start" stroke="#111" stroke-width="0.07" ><tspan font-style="italic">p</tspan> = 0.0085</text>
<polyline points="458.2,167.1 458.87,167.1 458.87,168.47 459.67,168.47 459.67,169.7 460.63,169.7 460.63,170.77 461.4,170.77 461.4,172.03 462.29,172.03 462.29,173.17 463.1,173.17 463.1,174.4 463.96,174.4 463.96,175.36 464.2,175.36 464.2,176.95 465.08,176.95 465.08,177.9 465.66,177.9 465.66,179.14 466.19,179.14 466.19,180.43 466.77,180.43 466.77,181.68 467.51,181.68 467.51,182.76 468,182.76 468,184.1 468.98,184.1 468.98,185.14 469.18,185.14 469.18,186.95 470.25,186.95 470.25,187.9 470.69,187.9 470.69,189.48 471.54,189.48 471.54,190.65 472,190.65 472,192.2 472.34,192.2 472.34,193.71 473.08,193.71 473.08,194.84 473.92,194.84 473.92,195.86 474.54,195.86 474.54,197.09 474.76,197.09 474.76,198.73 475.33,198.73 475.33,200.01 476.1,200.01 476.1,201.1 476.39,201.1 476.39,202.63 477.03,202.63 477.03,203.82 477.98,203.82 477.98,204.7 478.5,204.7 478.5,206 479.54,206 479.54,207.01 481.04,207.01 481.04,207.56 482.23,207.56 482.23,208.42 483.4,208.42 483.4,209.3 484.49,209.3 484.49,210.43 485.85,210.43 485.85,211.3 486.77,211.3 486.77,212.6 488.3,212.6 488.3,213.3 489.88,213.3 489.88,214.77 491.5,214.77 491.5,216.2 530,216.2" fill="none" stroke="#1f3f45" stroke-width="1.6" stroke-linejoin="miter"/>
<path d="M485.85,209.6v3.4M489.9,213.05v3.4M496.31,214.5v3.4M509.15,214.5v3.4M515.56,214.5v3.4" stroke="#1f3f45" stroke-width="0.9"/>
<polyline points="458.2,167.1 458.46,167.1 458.46,168.56 458.86,168.56 458.86,169.89 459.41,169.89 459.41,171.06 459.78,171.06 459.78,172.42 460.27,172.42 460.27,173.65 460.93,173.65 460.93,174.72 460.97,174.72 460.97,176.41 461.5,176.41 461.5,177.6 462.04,177.6 462.04,178.68 462.41,178.68 462.41,179.94 462.73,179.94 462.73,181.24 463.09,181.24 463.09,182.51 463.62,182.51 463.62,183.6 464.21,183.6 464.21,184.64 464.15,184.64 464.15,186.33 464.7,186.33 464.7,187.4 465.41,187.4 465.41,188.4 465.63,188.4 465.63,189.89 466.27,189.89 466.27,190.96 466.28,190.96 466.28,192.67 466.88,192.67 466.88,193.77 467.59,193.77 467.59,194.77 468.09,194.77 468.09,195.99 468.18,195.99 468.18,197.61 468.8,197.61 468.8,198.7 469.08,198.7 469.08,200.15 469.41,200.15 469.41,201.55 469.91,201.55 469.91,202.78 470.71,202.78 470.71,203.71 470.9,203.71 470.9,205.24 471.63,205.24 471.63,206.24 472,206.24 472,207.6 473.15,207.6 473.15,208.92 474.07,208.92 474.07,210.47 475.3,210.47 475.3,211.7 476.65,211.7 476.65,212.25 477.7,212.25 477.7,213.1 479.33,213.1 479.33,213.37 480.56,213.37 480.56,214.04 482.25,214.04 482.25,214.25 483.4,214.25 483.4,215 485.07,215 485.07,215.76 486.36,215.76 486.36,216.91 487.5,216.91 487.5,218.2 488.5,218.2 488.5,219 489.73,219 489.73,219.57 490.76,219.57 490.76,220.34 492.3,220.34 492.3,220.6 492.6,220.6 492.6,221.8 507,221.8 507.25,221.8 507.25,223.31 507.22,223.31 507.22,225.11 507.5,225.11 507.5,226.6 529,226.6" fill="none" stroke="#fc4e07" stroke-width="1.6" stroke-linejoin="miter"/>
<path d="M477.32,210.82v3.4M481.38,212.48v3.4M489.9,217.7v3.4M505.2,220.1v3.4M512.11,224.9v3.4M527.46,224.9v3.4" stroke="#fc4e07" stroke-width="0.9"/>
<line x1="27.4" y1="272.3" x2="27.4" y2="348" stroke="#333" stroke-width="0.7"/>
<line x1="27.4" y1="348" x2="106" y2="348" stroke="#333" stroke-width="0.7"/>
<line x1="25.8" y1="344.6" x2="27.4" y2="344.6" stroke="#333" stroke-width="0.5"/>
<text x="25" y="346.2" font-size="4.6" fill="#444" text-anchor="end" stroke="#444" stroke-width="0.07" >0.00</text>
<line x1="25.8" y1="327.33" x2="27.4" y2="327.33" stroke="#333" stroke-width="0.5"/>
<text x="25" y="328.93" font-size="4.6" fill="#444" text-anchor="end" stroke="#444" stroke-width="0.07" >0.25</text>
<line x1="25.8" y1="310.05" x2="27.4" y2="310.05" stroke="#333" stroke-width="0.5"/>
<text x="25" y="311.65" font-size="4.6" fill="#444" text-anchor="end" stroke="#444" stroke-width="0.07" >0.50</text>
<line x1="25.8" y1="292.77" x2="27.4" y2="292.77" stroke="#333" stroke-width="0.5"/>
<text x="25" y="294.38" font-size="4.6" fill="#444" text-anchor="end" stroke="#444" stroke-width="0.07" >0.75</text>
<line x1="25.8" y1="275.5" x2="27.4" y2="275.5" stroke="#333" stroke-width="0.5"/>
<text x="25" y="277.1" font-size="4.6" fill="#444" text-anchor="end" stroke="#444" stroke-width="0.07" >1.00</text>
<line x1="31" y1="348" x2="31" y2="349.6" stroke="#333" stroke-width="0.5"/>
<text x="31" y="354.9" font-size="4.6" fill="#444" text-anchor="middle" stroke="#444" stroke-width="0.07" >0</text>
<line x1="49.2" y1="348" x2="49.2" y2="349.6" stroke="#333" stroke-width="0.5"/>
<text x="49.2" y="354.9" font-size="4.6" fill="#444" text-anchor="middle" stroke="#444" stroke-width="0.07" >25</text>
<line x1="67.4" y1="348" x2="67.4" y2="349.6" stroke="#333" stroke-width="0.5"/>
<text x="67.4" y="354.9" font-size="4.6" fill="#444" text-anchor="middle" stroke="#444" stroke-width="0.07" >50</text>
<line x1="85.6" y1="348" x2="85.6" y2="349.6" stroke="#333" stroke-width="0.5"/>
<text x="85.6" y="354.9" font-size="4.6" fill="#444" text-anchor="middle" stroke="#444" stroke-width="0.07" >75</text>
<line x1="103.8" y1="348" x2="103.8" y2="349.6" stroke="#333" stroke-width="0.5"/>
<text x="103.8" y="354.9" font-size="4.6" fill="#444" text-anchor="middle" stroke="#444" stroke-width="0.07" >100</text>
<text x="70" y="361.1" font-size="4.8" fill="#111" text-anchor="middle" stroke="#111" stroke-width="0.07" >Time (months)</text>
<text x="0" y="0" font-size="4.8" fill="#111" text-anchor="middle" stroke="#111" stroke-width="0.07" transform="translate(13.6,310.05) rotate(-90)">Survival probability</text>
<text x="71.4" y="268.9" font-size="7.2" fill="#111" text-anchor="middle" stroke="#111" stroke-width="0.05" >MESO</text>
<line x1="75.4" y1="276.8" x2="84" y2="276.8" stroke="#fc4e07" stroke-width="1.3"/>
<line x1="79.7" y1="275" x2="79.7" y2="277.4" stroke="#fc4e07" stroke-width="0.6"/>
<text x="86.6" y="278.4" font-size="4.6" fill="#222" text-anchor="start" stroke="#222" stroke-width="0.07" >high(N=43)</text>
<line x1="75.4" y1="287.3" x2="84" y2="287.3" stroke="#1f3f45" stroke-width="1.3"/>
<line x1="79.7" y1="285.5" x2="79.7" y2="287.9" stroke="#1f3f45" stroke-width="0.6"/>
<text x="86.6" y="288.9" font-size="4.6" fill="#222" text-anchor="start" stroke="#222" stroke-width="0.07" >low(N=42)</text>
<text x="30.8" y="339.7" font-size="5.5" fill="#111" text-anchor="start" stroke="#111" stroke-width="0.07" ><tspan font-style="italic">p</tspan> &lt; 0.0001</text>
<polyline points="30.5,274 31.86,274 31.86,275 33.01,275 33.01,276.23 34.3,276.23 34.3,277.3 35.79,277.3 35.79,277.98 36.78,277.98 36.78,279.15 38.4,279.15 38.4,279.7 38.54,279.7 38.54,281.19 38.86,281.19 38.86,282.49 39.51,282.49 39.51,283.46 40,283.46 40,284.6 40.44,284.6 40.44,285.77 40.95,285.77 40.95,286.88 41.14,286.88 41.14,288.3 41.57,288.3 41.57,289.49 41.68,289.49 41.68,290.99 41.75,290.99 41.75,292.54 42.4,292.54 42.4,293.5 43.82,293.5 43.82,294.81 45.46,294.81 45.46,295.9 46.5,295.9 46.5,297.6 47.11,297.6 47.11,298.87 47.47,298.87 47.47,300.4 48.01,300.4 48.01,301.74 48.88,301.74 48.88,302.75 49.24,302.75 49.24,304.28 49.7,304.28 49.7,305.7 50.14,305.7 50.14,306.73 49.98,306.73 49.98,308.36 50.76,308.36 50.76,309.05 50.71,309.05 50.71,310.57 51.18,310.57 51.18,311.57 51.54,311.57 51.54,312.68 51.55,312.68 51.55,314.14 51.54,314.14 51.54,315.62 52.26,315.62 52.26,316.37 52.2,316.37 52.2,317.9 53.54,317.9 53.54,319.16 54.44,319.16 54.44,320.86 55.4,320.86 55.4,322.5 56.71,322.5 56.71,322.54 58.3,322.54 58.3,322.3 59.24,322.3 59.24,322.71 60.19,322.71 60.19,323.11 61.96,323.11 61.96,322.69 62.76,322.69 62.76,323.24 64.33,323.24 64.33,323.02 66.02,323.02 66.02,322.68 66.98,322.68 66.98,323.07 68.32,323.07 68.32,323.08 69.78,323.08 69.78,322.97 70.8,322.97 70.8,323.3 71.1,323.3 71.1,324.75 71.54,324.75 71.54,326.06 71.82,326.06 71.82,327.53 72.5,327.53 72.5,328.6 89.5,328.6 89.8,328.6 89.8,329.7 90.08,329.7 90.08,330.82 89.91,330.82 89.91,332.39 89.9,332.39 89.9,333.8 90.46,333.8 90.46,334.64 90.14,334.64 90.14,336.36 90.5,336.36 90.5,337.4 98.6,337.4 98.6,344" fill="none" stroke="#1f3f45" stroke-width="1.6" stroke-linejoin="miter"/>
<path d="M32.4,273.95v3.4M48.1,299.95v3.4M53.8,318.5v3.4M63.1,321.2v3.4M96.57,335.7v3.4" stroke="#1f3f45" stroke-width="0.9"/>
<polyline points="30.5,274 30.87,274 30.87,275.13 31.02,275.13 31.02,276.47 31.44,276.47 31.44,277.54 31.33,277.54 31.33,279.14 31.59,279.14 31.59,280.37 31.79,280.37 31.79,281.67 32.31,281.67 32.31,282.64 32.77,282.64 32.77,283.67 33.2,283.67 33.2,284.73 33.33,284.73 33.33,286.1 33.69,286.1 33.69,287.24 33.72,287.24 33.72,288.69 33.72,288.69 33.72,290.19 34.3,290.19 34.3,291.1 34.81,291.1 34.81,292.31 35.54,292.31 35.54,293.3 35.75,293.3 35.75,294.82 36.03,294.82 36.03,296.26 36.49,296.26 36.49,297.52 37.28,297.52 37.28,298.45 37.56,298.45 37.56,299.9 38.13,299.9 38.13,301.05 38.4,301.05 38.4,302.5 38.54,302.5 38.54,303.98 39.42,303.98 39.42,304.7 39.47,304.7 39.47,306.26 40.05,306.26 40.05,307.3 40.52,307.3 40.52,308.44 40.63,308.44 40.63,309.94 40.73,309.94 40.73,311.45 41.55,311.45 41.55,312.24 41.6,312.24 41.6,313.8 42.2,313.8 42.2,314.75 42.37,314.75 42.37,316.13 42.61,316.13 42.61,317.44 43.26,317.44 43.26,318.34 43.24,318.34 43.24,319.91 43.24,319.91 43.24,321.46 44.05,321.46 44.05,322.2 43.9,322.2 43.9,323.9 44.52,323.9 44.52,324.83 44.9,324.83 44.9,326 46.2,326 46.2,327.4 46.8,327.4 46.8,329.5 48.6,329.5 48.93,329.5 48.93,330.97 49.29,330.97 49.29,332.41 49.5,332.41 49.5,334 50.23,334 50.23,334.97 50.31,334.97 50.31,336.59 50.79,336.59 50.79,337.81 51.11,337.81 51.11,339.19 51.99,339.19 51.99,340.01 52.3,340.01 52.3,341.4 61.4,341.4 62.29,341.4 62.29,342.41 62.6,342.41 62.6,344" fill="none" stroke="#fc4e07" stroke-width="1.6" stroke-linejoin="miter"/>
<path d="M32.4,280.85v3.4M43.25,318.2v3.4M53.82,339.7v3.4" stroke="#fc4e07" stroke-width="0.9"/>
<line x1="140.8" y1="272.3" x2="140.8" y2="348" stroke="#333" stroke-width="0.7"/>
<line x1="140.8" y1="348" x2="220" y2="348" stroke="#333" stroke-width="0.7"/>
<line x1="139.2" y1="344.6" x2="140.8" y2="344.6" stroke="#333" stroke-width="0.5"/>
<text x="138.4" y="346.2" font-size="4.6" fill="#444" text-anchor="end" stroke="#444" stroke-width="0.07" >0.00</text>
<line x1="139.2" y1="327.33" x2="140.8" y2="327.33" stroke="#333" stroke-width="0.5"/>
<text x="138.4" y="328.93" font-size="4.6" fill="#444" text-anchor="end" stroke="#444" stroke-width="0.07" >0.25</text>
<line x1="139.2" y1="310.05" x2="140.8" y2="310.05" stroke="#333" stroke-width="0.5"/>
<text x="138.4" y="311.65" font-size="4.6" fill="#444" text-anchor="end" stroke="#444" stroke-width="0.07" >0.50</text>
<line x1="139.2" y1="292.77" x2="140.8" y2="292.77" stroke="#333" stroke-width="0.5"/>
<text x="138.4" y="294.38" font-size="4.6" fill="#444" text-anchor="end" stroke="#444" stroke-width="0.07" >0.75</text>
<line x1="139.2" y1="275.5" x2="140.8" y2="275.5" stroke="#333" stroke-width="0.5"/>
<text x="138.4" y="277.1" font-size="4.6" fill="#444" text-anchor="end" stroke="#444" stroke-width="0.07" >1.00</text>
<line x1="144.2" y1="348" x2="144.2" y2="349.6" stroke="#333" stroke-width="0.5"/>
<text x="144.2" y="354.9" font-size="4.6" fill="#444" text-anchor="middle" stroke="#444" stroke-width="0.07" >0</text>
<line x1="162.4" y1="348" x2="162.4" y2="349.6" stroke="#333" stroke-width="0.5"/>
<text x="162.4" y="354.9" font-size="4.6" fill="#444" text-anchor="middle" stroke="#444" stroke-width="0.07" >25</text>
<line x1="180.6" y1="348" x2="180.6" y2="349.6" stroke="#333" stroke-width="0.5"/>
<text x="180.6" y="354.9" font-size="4.6" fill="#444" text-anchor="middle" stroke="#444" stroke-width="0.07" >50</text>
<line x1="198.8" y1="348" x2="198.8" y2="349.6" stroke="#333" stroke-width="0.5"/>
<text x="198.8" y="354.9" font-size="4.6" fill="#444" text-anchor="middle" stroke="#444" stroke-width="0.07" >75</text>
<line x1="217" y1="348" x2="217" y2="349.6" stroke="#333" stroke-width="0.5"/>
<text x="217" y="354.9" font-size="4.6" fill="#444" text-anchor="middle" stroke="#444" stroke-width="0.07" >100</text>
<text x="183.6" y="361.1" font-size="4.8" fill="#111" text-anchor="middle" stroke="#111" stroke-width="0.07" >Time (months)</text>
<text x="0" y="0" font-size="4.8" fill="#111" text-anchor="middle" stroke="#111" stroke-width="0.07" transform="translate(127,310.05) rotate(-90)">Survival probability</text>
<text x="183.6" y="268.9" font-size="7.2" fill="#111" text-anchor="middle" stroke="#111" stroke-width="0.05" >PAAD</text>
<line x1="188.8" y1="276.8" x2="197.4" y2="276.8" stroke="#fc4e07" stroke-width="1.3"/>
<line x1="193.1" y1="275" x2="193.1" y2="277.4" stroke="#fc4e07" stroke-width="0.6"/>
<text x="200" y="278.4" font-size="4.6" fill="#222" text-anchor="start" stroke="#222" stroke-width="0.07" >high(N=89)</text>
<line x1="188.8" y1="287.3" x2="197.4" y2="287.3" stroke="#1f3f45" stroke-width="1.3"/>
<line x1="193.1" y1="285.5" x2="193.1" y2="287.9" stroke="#1f3f45" stroke-width="0.6"/>
<text x="200" y="288.9" font-size="4.6" fill="#222" text-anchor="start" stroke="#222" stroke-width="0.07" >low(N=88)</text>
<text x="144" y="339.7" font-size="5.5" fill="#111" text-anchor="start" stroke="#111" stroke-width="0.07" ><tspan font-style="italic">p</tspan> = 0.00089</text>
<polyline points="144.9,274.9 146.24,274.9 146.24,276.49 148.31,276.49 148.31,277.35 149.7,277.35 149.7,278.9 150.48,278.9 150.48,280.24 151.42,280.24 151.42,281.42 152.27,281.42 152.27,282.69 153.27,282.69 153.27,283.81 153.8,283.81 153.8,285.4 154.63,285.4 154.63,286.4 155.13,286.4 155.13,287.72 155.79,287.72 155.79,288.88 156.2,288.88 156.2,290.3 156.23,290.3 156.23,291.89 157.09,291.89 157.09,292.66 156.89,292.66 156.89,294.49 157.21,294.49 157.21,295.79 157.62,295.79 157.62,297 158.1,297 158.1,298.15 158.35,298.15 158.35,299.52 158.7,299.52 158.7,300.8 159.18,300.8 159.18,301.8 159.29,301.8 159.29,303.17 159.84,303.17 159.84,304.11 159.99,304.11 159.99,305.44 159.74,305.44 159.74,307.18 160.3,307.18 160.3,308.1 161.53,308.1 161.53,309.07 162.74,309.07 162.74,310.06 164.4,310.06 164.4,310.6 165.76,310.6 165.76,311 166.76,311 166.76,311.76 168.38,311.76 168.38,311.9 169.43,311.9 169.43,312.61 170.8,312.61 170.8,313 172.21,313 172.21,313.21 173.05,313.21 173.05,314 174.2,314 174.2,314.48 175.7,314.48 175.7,314.6 176.51,314.6 176.51,315.96 177.55,315.96 177.55,317.09 178.1,317.09 178.1,318.7 179.78,318.7 179.78,320.32 181.4,320.32 181.4,322 210.9,322" fill="none" stroke="#1f3f45" stroke-width="1.6" stroke-linejoin="miter"/>
<path d="M147.3,275.2v3.4M162.35,307.65v3.4M166,309.5v3.4M183.04,320.3v3.4M186.32,320.3v3.4M189.59,320.3v3.4M196.15,320.3v3.4M199.43,320.3v3.4" stroke="#1f3f45" stroke-width="0.9"/>
<polyline points="144.9,274.9 145.04,274.9 145.04,276.51 145.91,276.51 145.91,277.39 146.06,277.39 146.06,278.99 146.58,278.99 146.58,280.22 147.01,280.22 147.01,281.54 147.3,281.54 147.3,283 148.01,283 148.01,283.92 148.35,283.92 148.35,285.2 148.67,285.2 148.67,286.51 149.14,286.51 149.14,287.66 149.08,287.66 149.08,289.34 150.04,289.34 150.04,290.01 149.94,290.01 149.94,291.74 150.6,291.74 150.6,292.7 150.76,292.7 150.76,294.17 151.26,294.17 151.26,295.29 151.83,295.29 151.83,296.35 152.16,296.35 152.16,297.64 152.82,297.64 152.82,298.61 153.06,298.61 153.06,299.99 153.74,299.99 153.74,300.94 153.8,300.94 153.8,302.5 154.43,302.5 154.43,303.49 154.3,303.49 154.3,305.22 154.86,305.22 154.86,306.28 155.11,306.28 155.11,307.64 155.88,307.64 155.88,308.48 156,308.48 156,309.97 156.74,309.97 156.74,310.85 157,310.85 157,312.2 157.57,312.2 157.57,313.59 158.51,313.59 158.51,314.61 158.78,314.61 158.78,316.3 159.36,316.3 159.36,317.68 160.3,317.68 160.3,318.7 160.71,318.7 160.71,320.11 161.35,320.11 161.35,321.3 161.53,321.3 161.53,322.95 161.9,322.95 161.9,324.4 162.99,324.4 162.99,324.77 164.68,324.77 164.68,324.54 165.98,324.54 165.98,324.7 166.83,324.7 166.83,325.31 168.4,325.31 168.4,325.2 170.06,325.2 170.06,325.57 171.15,325.57 171.15,326.52 172.5,326.52 172.5,327.2 173.88,327.2 173.88,327.1 175.23,327.1 175.23,327.02 176.4,327.02 176.4,327.13 177.48,327.13 177.48,327.32 178.64,327.32 178.64,327.44 180.41,327.44 180.41,326.94 181.59,326.94 181.59,327.04 182.53,327.04 182.53,327.37 183.6,327.37 183.6,327.58 185.16,327.58 185.16,327.29 186.38,327.29 186.38,327.34 187.76,327.34 187.76,327.24 188.64,327.24 188.64,327.64 190.45,327.64 190.45,327.1 191.3,327.1 191.3,327.52 192.7,327.52 192.7,327.4 192.7,336.8 197.3,336.8 197.3,344" fill="none" stroke="#fc4e07" stroke-width="1.6" stroke-linejoin="miter"/>
<path d="M148.95,286.15v3.4M155.4,305.65v3.4M158.65,313.75v3.4M174.18,325.52v3.4M177.55,325.55v3.4M180.92,325.58v3.4M187.65,325.65v3.4M191.02,325.68v3.4" stroke="#fc4e07" stroke-width="0.9"/>
<line x1="244.5" y1="272.3" x2="244.5" y2="348" stroke="#333" stroke-width="0.7"/>
<line x1="244.5" y1="348" x2="324" y2="348" stroke="#333" stroke-width="0.7"/>
<line x1="242.9" y1="344.6" x2="244.5" y2="344.6" stroke="#333" stroke-width="0.5"/>
<text x="242.1" y="346.2" font-size="4.6" fill="#444" text-anchor="end" stroke="#444" stroke-width="0.07" >0.00</text>
<line x1="242.9" y1="327.33" x2="244.5" y2="327.33" stroke="#333" stroke-width="0.5"/>
<text x="242.1" y="328.93" font-size="4.6" fill="#444" text-anchor="end" stroke="#444" stroke-width="0.07" >0.25</text>
<line x1="242.9" y1="310.05" x2="244.5" y2="310.05" stroke="#333" stroke-width="0.5"/>
<text x="242.1" y="311.65" font-size="4.6" fill="#444" text-anchor="end" stroke="#444" stroke-width="0.07" >0.50</text>
<line x1="242.9" y1="292.77" x2="244.5" y2="292.77" stroke="#333" stroke-width="0.5"/>
<text x="242.1" y="294.38" font-size="4.6" fill="#444" text-anchor="end" stroke="#444" stroke-width="0.07" >0.75</text>
<line x1="242.9" y1="275.5" x2="244.5" y2="275.5" stroke="#333" stroke-width="0.5"/>
<text x="242.1" y="277.1" font-size="4.6" fill="#444" text-anchor="end" stroke="#444" stroke-width="0.07" >1.00</text>
<line x1="248.6" y1="348" x2="248.6" y2="349.6" stroke="#333" stroke-width="0.5"/>
<text x="248.6" y="354.9" font-size="4.6" fill="#444" text-anchor="middle" stroke="#444" stroke-width="0.07" >0</text>
<line x1="263.1" y1="348" x2="263.1" y2="349.6" stroke="#333" stroke-width="0.5"/>
<text x="263.1" y="354.9" font-size="4.6" fill="#444" text-anchor="middle" stroke="#444" stroke-width="0.07" >50</text>
<line x1="277.6" y1="348" x2="277.6" y2="349.6" stroke="#333" stroke-width="0.5"/>
<text x="277.6" y="354.9" font-size="4.6" fill="#444" text-anchor="middle" stroke="#444" stroke-width="0.07" >100</text>
<line x1="292.1" y1="348" x2="292.1" y2="349.6" stroke="#333" stroke-width="0.5"/>
<text x="292.1" y="354.9" font-size="4.6" fill="#444" text-anchor="middle" stroke="#444" stroke-width="0.07" >150</text>
<line x1="306.6" y1="348" x2="306.6" y2="349.6" stroke="#333" stroke-width="0.5"/>
<text x="306.6" y="354.9" font-size="4.6" fill="#444" text-anchor="middle" stroke="#444" stroke-width="0.07" >200</text>
<line x1="321.1" y1="348" x2="321.1" y2="349.6" stroke="#333" stroke-width="0.5"/>
<text x="321.1" y="354.9" font-size="4.6" fill="#444" text-anchor="middle" stroke="#444" stroke-width="0.07" >250</text>
<text x="287.8" y="361.1" font-size="4.8" fill="#111" text-anchor="middle" stroke="#111" stroke-width="0.07" >Time (months)</text>
<text x="0" y="0" font-size="4.8" fill="#111" text-anchor="middle" stroke="#111" stroke-width="0.07" transform="translate(230.7,310.05) rotate(-90)">Survival probability</text>
<text x="288" y="268.9" font-size="7.2" fill="#111" text-anchor="middle" stroke="#111" stroke-width="0.05" >UCEC</text>
<line x1="292.5" y1="276.8" x2="301.1" y2="276.8" stroke="#fc4e07" stroke-width="1.3"/>
<line x1="296.8" y1="275" x2="296.8" y2="277.4" stroke="#fc4e07" stroke-width="0.6"/>
<text x="303.7" y="278.4" font-size="4.6" fill="#222" text-anchor="start" stroke="#222" stroke-width="0.07" >high(N=271)</text>
<line x1="292.5" y1="287.3" x2="301.1" y2="287.3" stroke="#1f3f45" stroke-width="1.3"/>
<line x1="296.8" y1="285.5" x2="296.8" y2="287.9" stroke="#1f3f45" stroke-width="0.6"/>
<text x="303.7" y="288.9" font-size="4.6" fill="#222" text-anchor="start" stroke="#222" stroke-width="0.07" >low(N=271)</text>
<text x="248.4" y="339.7" font-size="5.5" fill="#111" text-anchor="start" stroke="#111" stroke-width="0.07" ><tspan font-style="italic">p</tspan> = 0.0072</text>
<polyline points="247.7,273.4 248.55,273.4 248.55,274.42 250.07,274.42 250.07,274.78 251.2,274.78 251.2,275.52 252.5,275.52 252.5,276.1 254.16,276.1 254.16,276.94 255.55,276.94 255.55,278.05 256.6,278.05 256.6,279.5 257.54,279.5 257.54,280.76 258.31,280.76 258.31,282.19 259.61,282.19 259.61,283.09 260.6,283.09 260.6,284.3 262.03,284.3 262.03,284.91 263.08,284.91 263.08,285.88 264.7,285.88 264.7,286.3 265.94,286.3 265.94,287.26 267.48,287.26 267.48,287.92 268.74,287.92 268.74,288.86 270.1,288.86 270.1,289.7 271.47,289.7 271.47,290.37 272.66,290.37 272.66,291.2 274.2,291.2 274.2,291.7 279.6,291.7 279.72,291.7 279.72,292.87 279.86,292.87 279.86,294.01 279.51,294.01 279.51,295.65 280.11,295.65 280.11,296.35 279.87,296.35 279.87,297.87 280,297.87 280,299.04 280.11,299.04 280.11,300.21 280.31,300.21 280.31,301.3 280.3,301.3 280.3,302.6 303.6,302.6" fill="none" stroke="#1f3f45" stroke-width="1.6" stroke-linejoin="miter"/>
<path d="M250.1,273.05v3.4M276.9,290v3.4M291.95,300.9v3.4" stroke="#1f3f45" stroke-width="0.9"/>
<polyline points="247.7,273.4 248.2,273.4 248.2,275.1 249.37,275.1 249.37,276.13 250.15,276.13 250.15,277.55 251.1,277.55 251.1,278.8 252.22,278.8 252.22,279.86 253.05,279.86 253.05,281.21 253.5,281.21 253.5,282.94 254.09,282.94 254.09,284.53 255.2,284.53 255.2,285.6 256.03,285.6 256.03,286.81 256.9,286.81 256.9,287.98 257.41,287.98 257.41,289.51 258.37,289.51 258.37,290.59 259.3,290.59 259.3,291.7 260.71,291.7 260.71,292.76 261.96,292.76 261.96,293.98 263.3,293.98 263.3,295.1 264.65,295.1 264.65,295.45 265.83,295.45 265.83,295.97 267.4,295.97 267.4,296.1 268.7,296.1 268.7,296.5 270.17,296.5 270.17,296.29 271.09,296.29 271.09,296.62 272.97,296.62 272.97,296 274.01,296 274.01,296.21 275.41,296.21 275.41,296.07 276.81,296.07 276.81,295.93 278.2,295.93 278.2,295.8 278.76,295.8 278.76,297.28 279.2,297.28 279.2,298.87 279.6,298.87 279.6,300.5 279.52,300.5 279.52,302 279.78,302 279.78,303.16 280.5,303.16 280.5,303.86 280.67,303.86 280.67,305.11 280.64,305.11 280.64,306.56 280.87,306.56 280.87,307.75 280.78,307.75 280.78,309.26 281.39,309.26 281.39,310.07 281.32,310.07 281.32,311.56 281.6,311.56 281.6,312.7 282.95,312.7 282.95,312.58 284.02,312.58 284.02,312.75 285.63,312.75 285.63,312.38 286.86,312.38 286.86,312.38 287.64,312.38 287.64,312.83 288.89,312.83 288.89,312.83 289.9,312.83 289.9,313.05 291.2,313.05 291.2,312.99 292.33,312.99 292.33,313.09 293.59,313.09 293.59,313.07 294.87,313.07 294.87,313.02 296.45,313.02 296.45,312.68 297.69,312.68 297.69,312.67 298.47,312.67 298.47,313.13 299.81,313.13 299.81,313.03 301.14,313.03 301.14,312.93 302.47,312.93 302.47,312.84 303.43,312.84 303.43,313.11 304.89,313.11 304.89,312.89 306.13,312.89 306.13,312.89 307.61,312.89 307.61,312.64 308.89,312.64 308.89,312.6 309.73,312.6 309.73,312.99 310.96,312.99 310.96,313 311.99,313 311.99,313.2 313.39,313.2 313.39,313.04 315.04,313.04 315.04,312.62 316,312.62 316,312.9" fill="none" stroke="#fc4e07" stroke-width="1.6" stroke-linejoin="miter"/>
<path d="M249.4,274.4v3.4M273.45,294.45v3.4M289.42,311.05v3.4M305.05,311.14v3.4M314.44,311.19v3.4" stroke="#fc4e07" stroke-width="0.9"/>
<line x1="351.4" y1="272.3" x2="351.4" y2="348" stroke="#333" stroke-width="0.7"/>
<line x1="351.4" y1="348" x2="432" y2="348" stroke="#333" stroke-width="0.7"/>
<line x1="349.8" y1="344.6" x2="351.4" y2="344.6" stroke="#333" stroke-width="0.5"/>
<text x="349" y="346.2" font-size="4.6" fill="#444" text-anchor="end" stroke="#444" stroke-width="0.07" >0.00</text>
<line x1="349.8" y1="327.33" x2="351.4" y2="327.33" stroke="#333" stroke-width="0.5"/>
<text x="349" y="328.93" font-size="4.6" fill="#444" text-anchor="end" stroke="#444" stroke-width="0.07" >0.25</text>
<line x1="349.8" y1="310.05" x2="351.4" y2="310.05" stroke="#333" stroke-width="0.5"/>
<text x="349" y="311.65" font-size="4.6" fill="#444" text-anchor="end" stroke="#444" stroke-width="0.07" >0.50</text>
<line x1="349.8" y1="292.77" x2="351.4" y2="292.77" stroke="#333" stroke-width="0.5"/>
<text x="349" y="294.38" font-size="4.6" fill="#444" text-anchor="end" stroke="#444" stroke-width="0.07" >0.75</text>
<line x1="349.8" y1="275.5" x2="351.4" y2="275.5" stroke="#333" stroke-width="0.5"/>
<text x="349" y="277.1" font-size="4.6" fill="#444" text-anchor="end" stroke="#444" stroke-width="0.07" >1.00</text>
<line x1="355" y1="348" x2="355" y2="349.6" stroke="#333" stroke-width="0.5"/>
<text x="355" y="354.9" font-size="4.6" fill="#444" text-anchor="middle" stroke="#444" stroke-width="0.07" >0</text>
<line x1="373.3" y1="348" x2="373.3" y2="349.6" stroke="#333" stroke-width="0.5"/>
<text x="373.3" y="354.9" font-size="4.6" fill="#444" text-anchor="middle" stroke="#444" stroke-width="0.07" >20</text>
<line x1="391.6" y1="348" x2="391.6" y2="349.6" stroke="#333" stroke-width="0.5"/>
<text x="391.6" y="354.9" font-size="4.6" fill="#444" text-anchor="middle" stroke="#444" stroke-width="0.07" >40</text>
<line x1="409.9" y1="348" x2="409.9" y2="349.6" stroke="#333" stroke-width="0.5"/>
<text x="409.9" y="354.9" font-size="4.6" fill="#444" text-anchor="middle" stroke="#444" stroke-width="0.07" >60</text>
<line x1="428.2" y1="348" x2="428.2" y2="349.6" stroke="#333" stroke-width="0.5"/>
<text x="428.2" y="354.9" font-size="4.6" fill="#444" text-anchor="middle" stroke="#444" stroke-width="0.07" >80</text>
<text x="395" y="361.1" font-size="4.8" fill="#111" text-anchor="middle" stroke="#111" stroke-width="0.07" >Time (months)</text>
<text x="0" y="0" font-size="4.8" fill="#111" text-anchor="middle" stroke="#111" stroke-width="0.07" transform="translate(337.6,310.05) rotate(-90)">Survival probability</text>
<text x="393.8" y="268.9" font-size="7.2" fill="#111" text-anchor="middle" stroke="#111" stroke-width="0.05" >UVM</text>
<line x1="399.4" y1="276.8" x2="408" y2="276.8" stroke="#fc4e07" stroke-width="1.3"/>
<line x1="403.7" y1="275" x2="403.7" y2="277.4" stroke="#fc4e07" stroke-width="0.6"/>
<text x="410.6" y="278.4" font-size="4.6" fill="#222" text-anchor="start" stroke="#222" stroke-width="0.07" >high(N=40)</text>
<line x1="399.4" y1="287.3" x2="408" y2="287.3" stroke="#1f3f45" stroke-width="1.3"/>
<line x1="403.7" y1="285.5" x2="403.7" y2="287.9" stroke="#1f3f45" stroke-width="0.6"/>
<text x="410.6" y="288.9" font-size="4.6" fill="#222" text-anchor="start" stroke="#222" stroke-width="0.07" >low(N=40)</text>
<text x="354.8" y="339.7" font-size="5.5" fill="#111" text-anchor="start" stroke="#111" stroke-width="0.07" ><tspan font-style="italic">p</tspan> = 0.029</text>
<polyline points="356.1,273.4 356.32,273.4 356.32,275 357.2,275 357.2,275.93 357.7,275.93 357.7,277.25 358.66,277.25 358.66,278.1 359.25,278.1 359.25,279.34 359.5,279.34 359.5,280.9 369,280.9 370.64,280.9 370.64,281.26 372.4,281.26 372.4,281.5 373.41,281.5 373.41,283.19 375,283.19 375,284.3 393.4,284.3 393.54,284.3 393.54,285.57 393.72,285.57 393.72,286.8 393.54,286.8 393.54,288.39 393.81,288.39 393.81,289.53 394.13,289.53 394.13,290.62 394.17,290.62 394.17,291.99 394.31,291.99 394.31,293.26 394.27,293.26 394.27,294.71 394.62,294.71 394.62,295.77 394.7,295.77 394.7,297.1 402.2,297.1 402.38,297.1 402.38,298.27 402.03,298.27 402.03,299.97 402.62,299.97 402.62,300.73 402.39,300.73 402.39,302.31 402.5,302.31 402.5,303.55 402.62,303.55 402.62,304.78 402.81,304.78 402.81,305.94 402.8,305.94 402.8,307.3 431,307.3" fill="none" stroke="#1f3f45" stroke-width="1.6" stroke-linejoin="miter"/>
<path d="M357.8,275.45v3.4M376.53,282.6v3.4M379.6,282.6v3.4M388.8,282.6v3.4M400.32,295.4v3.4M407.5,305.6v3.4M410.63,305.6v3.4M416.9,305.6v3.4M423.17,305.6v3.4" stroke="#1f3f45" stroke-width="0.9"/>
<polyline points="356.1,273.4 358.1,273.4 358.1,275.5 359.13,275.5 359.13,276.67 360.82,276.67 360.82,277.18 362.13,277.18 362.13,278.07 363.6,278.07 363.6,278.8 365.55,278.8 365.55,279.2 366.9,279.2 366.9,280.2 367.49,280.2 367.49,281.25 367.4,281.25 367.4,282.98 367.45,282.98 367.45,284.57 368.03,284.57 368.03,285.63 368.3,285.63 368.3,287 370.06,287 370.06,288.29 371.7,288.29 371.7,289.7 372.8,289.7 372.8,291.3 374.29,291.3 374.29,292.51 375.83,292.51 375.83,293.67 377.1,293.67 377.1,295.1 378.44,295.1 378.44,296.46 379.8,296.46 379.8,297.8 380.98,297.8 380.98,299.32 382.5,299.32 382.5,300.5 383.91,300.5 383.91,301.82 385.34,301.82 385.34,303.12 386.6,303.12 386.6,304.6 387.65,304.6 387.65,305.59 389.53,305.59 389.53,305.73 390.7,305.73 390.7,306.6 391.79,306.6 391.79,306.85 393.03,306.85 393.03,306.95 394.27,306.95 394.27,307.05 395.59,307.05 395.59,307.07 396.7,307.07 396.7,307.3 396.85,307.3 396.85,308.57 396.59,308.57 396.59,310.26 396.74,310.26 396.74,311.53 397.35,311.53 397.35,312.35 397.4,312.35 397.4,313.72 397.27,313.72 397.27,315.28 397.39,315.28 397.39,316.59 397.4,316.59 397.4,318 397.3,318 397.3,319.62 397.83,319.62 397.83,320.61 397.68,320.61 397.68,322.28 398,322.28 398,323.48 398,323.48 398,325 399.3,325 399.3,325.17 401.01,325.17 401.01,324.92 402,324.92 402,325.4" fill="none" stroke="#fc4e07" stroke-width="1.6" stroke-linejoin="miter"/>
<path d="M360.85,275.45v3.4M384.55,300.85v3.4M388.65,303.9v3.4M400,323.5v3.4" stroke="#fc4e07" stroke-width="0.9"/>
</svg>
</body></html>
